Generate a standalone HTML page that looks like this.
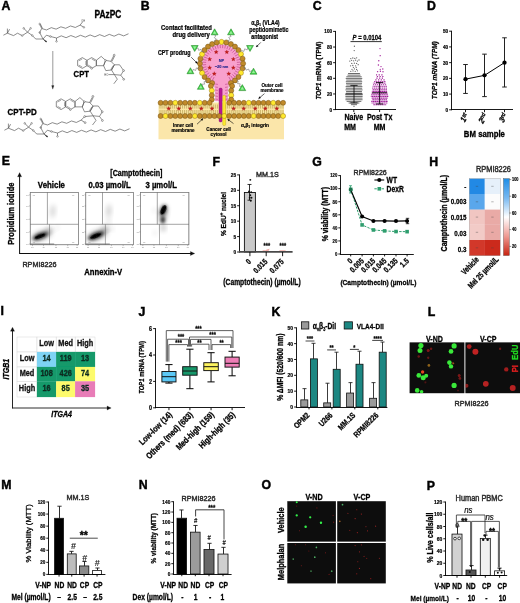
<!DOCTYPE html>
<html lang="en"><head><meta charset="utf-8"><title>Figure</title>
<style>
html,body{margin:0;padding:0;background:#fff;}
body{width:520px;height:603px;overflow:hidden;}
svg{display:block;font-family:"Liberation Sans", sans-serif;}
</style></head><body>
<svg width="520" height="603" viewBox="0 0 520 603">
<defs><filter id="soft" x="-2%" y="-2%" width="104%" height="104%"><feGaussianBlur stdDeviation="0.32"/></filter>
<filter id="b1" x="-50%" y="-50%" width="200%" height="200%"><feGaussianBlur stdDeviation="0.7"/></filter>
<filter id="b2" x="-50%" y="-50%" width="200%" height="200%"><feGaussianBlur stdDeviation="1.5"/></filter>
<filter id="b3" x="-50%" y="-50%" width="200%" height="200%"><feGaussianBlur stdDeviation="2.6"/></filter>
<filter id="b0" x="-50%" y="-50%" width="200%" height="200%"><feGaussianBlur stdDeviation="0.35"/></filter>
<linearGradient id="cbar" x1="0" y1="0" x2="0" y2="1">
<stop offset="0" stop-color="#1f8de6"/><stop offset="0.25" stop-color="#78b8f0"/><stop offset="0.5" stop-color="#ffffff"/><stop offset="0.75" stop-color="#ee9a92"/><stop offset="1" stop-color="#c8220f"/>
</linearGradient>
</defs>
<rect width="520" height="603" fill="#fff"/>
<g filter="url(#soft)">
<text transform="translate(1.40,9.80)" font-size="12.3" font-weight="bold" text-anchor="start" fill="#000" stroke="#000" stroke-width="0.44">A</text>
<text transform="translate(140.80,9.90)" font-size="12.3" font-weight="bold" text-anchor="start" fill="#000" stroke="#000" stroke-width="0.44">B</text>
<text transform="translate(94.60,18.00) scale(0.82,1)" font-size="10.2" font-weight="bold" text-anchor="start" fill="#000" stroke="#000" stroke-width="0.37">PAzPC</text>
<path d="M3.40 35.20 L7.40 33.20 L7.40 28.60" stroke="#444" stroke-width="0.62" fill="none"/>
<path d="M7.40 33.20 L9.60 29.20" stroke="#444" stroke-width="0.62" fill="none"/>
<path d="M7.40 33.20 L13.50 35.60 L17.50 33.20 L22.20 35.60 L27.60 32.20 L32.30 35.50 L35.70 39.00 L43.00 39.00 L46.40 35.20 L50.50 36.50 L56.50 38.00" stroke="#444" stroke-width="0.62" fill="none"/>
<line x1="27.60" y1="32.20" x2="23.90" y2="28.50" stroke="#444" stroke-width="0.62"/>
<line x1="27.60" y1="32.20" x2="30.40" y2="28.50" stroke="#444" stroke-width="0.62"/>
<circle cx="22.20" cy="35.60" r="0.80" fill="#fff" stroke="#444" stroke-width="0.45"/>
<circle cx="32.30" cy="35.50" r="0.80" fill="#fff" stroke="#444" stroke-width="0.45"/>
<circle cx="23.70" cy="28.30" r="0.80" fill="#fff" stroke="#444" stroke-width="0.45"/>
<circle cx="30.60" cy="28.30" r="0.80" fill="#fff" stroke="#444" stroke-width="0.45"/>
<circle cx="50.50" cy="36.50" r="0.80" fill="#fff" stroke="#444" stroke-width="0.45"/>
<circle cx="39.70" cy="32.50" r="0.80" fill="#fff" stroke="#444" stroke-width="0.45"/>
<line x1="56.50" y1="38.00" x2="56.50" y2="41.20" stroke="#444" stroke-width="0.62"/>
<circle cx="56.50" cy="41.40" r="0.80" fill="#fff" stroke="#444" stroke-width="0.45"/>
<path d="M43.00 39.00 L46.90 41.40 L46.00 42.20 Z" stroke="#111" stroke-width="0.3" fill="#111"/>
<path d="M56.50 38.00 L61.30 35.85 L66.10 37.70 L70.90 35.55 L75.70 37.40 L80.50 35.25 L85.30 37.10 L90.10 34.95 L94.90 36.80 L99.70 34.65 L104.50 36.50 L109.30 34.35 L114.10 36.20 L118.90 34.05 L123.70 35.90 L128.50 33.75" stroke="#444" stroke-width="0.62" fill="none"/>
<path d="M43.00 39.00 L39.70 32.50 L41.70 28.50" stroke="#444" stroke-width="0.62" fill="none"/>
<line x1="41.70" y1="28.50" x2="39.70" y2="24.20" stroke="#444" stroke-width="0.62"/>
<line x1="42.40" y1="28.30" x2="40.40" y2="24.00" stroke="#444" stroke-width="0.62"/>
<circle cx="39.70" cy="24.00" r="0.80" fill="#fff" stroke="#444" stroke-width="0.45"/>
<path d="M41.70 28.50 L46.50 29.98 L51.30 27.66 L56.10 29.14 L60.90 26.82 L65.70 28.30 L70.50 25.98 L75.30 27.46 L80.10 25.14" stroke="#444" stroke-width="0.62" fill="none"/>
<path d="M80.10 25.14 L82.70 21.74" stroke="#444" stroke-width="0.62" fill="none"/>
<path d="M80.10 25.14 L83.50 26.94" stroke="#444" stroke-width="0.62" fill="none"/>
<text transform="translate(81.30,21.54) scale(0.9,1)" font-size="2.8" font-weight="normal" text-anchor="start" fill="#444">OH</text>
<circle cx="83.90" cy="27.34" r="0.80" fill="#fff" stroke="#444" stroke-width="0.45"/>
<line x1="52.80" y1="51.00" x2="52.80" y2="87.00" stroke="#333" stroke-width="0.5"/>
<path d="M51.60 85.60 L52.80 89.20 L54.00 85.60 Z" stroke="#222" stroke-width="0.2" fill="#222"/>
<path d="M86.98 65.70 L82.30 68.40 L77.62 65.70 L77.62 60.30 L82.30 57.60 L86.98 60.30 Z" stroke="#444" stroke-width="0.6" fill="none"/>
<path d="M96.33 65.70 L91.65 68.40 L86.98 65.70 L86.98 60.30 L91.65 57.60 L96.33 60.30 Z" stroke="#444" stroke-width="0.6" fill="none"/>
<line x1="82.30" y1="67.10" x2="78.75" y2="65.05" stroke="#444" stroke-width="0.48"/>
<line x1="78.75" y1="60.95" x2="82.30" y2="58.90" stroke="#444" stroke-width="0.48"/>
<line x1="85.85" y1="60.95" x2="85.85" y2="65.05" stroke="#444" stroke-width="0.48"/>
<line x1="91.65" y1="58.90" x2="95.20" y2="60.95" stroke="#444" stroke-width="0.48"/>
<line x1="91.65" y1="67.10" x2="88.10" y2="65.05" stroke="#444" stroke-width="0.48"/>
<path d="M96.33 60.30 L101.20 56.40 L105.60 60.40 L103.60 65.70 L96.33 65.70 Z" stroke="#444" stroke-width="0.6" fill="none"/>
<path d="M105.60 60.40 L110.90 61.30 L114.40 64.80 L111.50 70.00 L105.80 70.60 L103.60 65.70 Z" stroke="#444" stroke-width="0.6" fill="none"/>
<line x1="113.20" y1="65.60" x2="110.70" y2="69.60" stroke="#444" stroke-width="0.48"/>
<path d="M114.40 64.80 L119.60 64.80 L123.60 70.60 L120.80 75.20 L114.40 74.60 L111.50 70.00 Z" stroke="#444" stroke-width="0.6" fill="none"/>
<line x1="110.90" y1="61.30" x2="113.60" y2="56.00" stroke="#444" stroke-width="0.6"/>
<line x1="111.80" y1="61.60" x2="114.50" y2="56.30" stroke="#444" stroke-width="0.6"/>
<circle cx="114.20" cy="55.20" r="0.90" fill="#fff" stroke="#444" stroke-width="0.5"/>
<circle cx="123.60" cy="70.60" r="0.90" fill="#fff" stroke="#444" stroke-width="0.5"/>
<line x1="120.80" y1="75.20" x2="123.30" y2="78.60" stroke="#444" stroke-width="0.6"/>
<circle cx="123.70" cy="79.30" r="0.90" fill="#fff" stroke="#444" stroke-width="0.5"/>
<circle cx="91.65" cy="68.40" r="0.85" fill="#fff" stroke="#444" stroke-width="0.45"/>
<circle cx="105.60" cy="60.40" r="0.80" fill="#fff" stroke="#444" stroke-width="0.45"/>
<path d="M114.40 74.60 L117.30 79.20 L113.80 83.80" stroke="#444" stroke-width="0.6" fill="none"/>
<line x1="114.40" y1="74.60" x2="108.60" y2="74.60" stroke="#444" stroke-width="0.6"/>
<text transform="translate(104.30,75.80) scale(0.9,1)" font-size="3.0" font-weight="normal" text-anchor="start" fill="#444">HO</text>
<text transform="translate(73.60,77.40) scale(0.82,1)" font-size="9.4" font-weight="bold" text-anchor="start" fill="#000" stroke="#000" stroke-width="0.34">CPT</text>
<text transform="translate(7.60,115.00) scale(0.82,1)" font-size="9.7" font-weight="bold" text-anchor="start" fill="#000" stroke="#000" stroke-width="0.35">CPT-PD</text>
<path d="M65.68 106.90 L61.00 109.60 L56.32 106.90 L56.32 101.50 L61.00 98.80 L65.68 101.50 Z" stroke="#444" stroke-width="0.6" fill="none"/>
<path d="M75.03 106.90 L70.35 109.60 L65.68 106.90 L65.68 101.50 L70.35 98.80 L75.03 101.50 Z" stroke="#444" stroke-width="0.6" fill="none"/>
<line x1="61.00" y1="108.30" x2="57.45" y2="106.25" stroke="#444" stroke-width="0.48"/>
<line x1="57.45" y1="102.15" x2="61.00" y2="100.10" stroke="#444" stroke-width="0.48"/>
<line x1="64.55" y1="102.15" x2="64.55" y2="106.25" stroke="#444" stroke-width="0.48"/>
<line x1="70.35" y1="100.10" x2="73.90" y2="102.15" stroke="#444" stroke-width="0.48"/>
<line x1="70.35" y1="108.30" x2="66.80" y2="106.25" stroke="#444" stroke-width="0.48"/>
<path d="M75.03 101.50 L79.90 97.60 L84.30 101.60 L82.30 106.90 L75.03 106.90 Z" stroke="#444" stroke-width="0.6" fill="none"/>
<path d="M84.30 101.60 L89.60 102.50 L93.10 106.00 L90.20 111.20 L84.50 111.80 L82.30 106.90 Z" stroke="#444" stroke-width="0.6" fill="none"/>
<line x1="91.90" y1="106.80" x2="89.40" y2="110.80" stroke="#444" stroke-width="0.48"/>
<path d="M93.10 106.00 L98.30 106.00 L102.30 111.80 L99.50 116.40 L93.10 115.80 L90.20 111.20 Z" stroke="#444" stroke-width="0.6" fill="none"/>
<line x1="89.60" y1="102.50" x2="92.30" y2="97.20" stroke="#444" stroke-width="0.6"/>
<line x1="90.50" y1="102.80" x2="93.20" y2="97.50" stroke="#444" stroke-width="0.6"/>
<circle cx="92.90" cy="96.40" r="0.90" fill="#fff" stroke="#444" stroke-width="0.5"/>
<circle cx="102.30" cy="111.80" r="0.90" fill="#fff" stroke="#444" stroke-width="0.5"/>
<line x1="99.50" y1="116.40" x2="102.00" y2="119.80" stroke="#444" stroke-width="0.6"/>
<circle cx="102.40" cy="120.50" r="0.90" fill="#fff" stroke="#444" stroke-width="0.5"/>
<circle cx="70.35" cy="109.60" r="0.85" fill="#fff" stroke="#444" stroke-width="0.45"/>
<circle cx="84.30" cy="101.60" r="0.80" fill="#fff" stroke="#444" stroke-width="0.45"/>
<path d="M93.10 115.80 L96.00 120.40 L92.50 125.00" stroke="#444" stroke-width="0.6" fill="none"/>
<path d="M4.40 130.20 L8.40 128.20 L8.40 123.60" stroke="#444" stroke-width="0.62" fill="none"/>
<path d="M8.40 128.20 L10.60 124.20" stroke="#444" stroke-width="0.62" fill="none"/>
<path d="M8.40 128.20 L14.50 130.60 L18.50 128.20 L23.20 130.60 L28.60 127.20 L33.30 130.50 L36.70 134.00 L44.00 134.00 L47.40 130.20 L51.50 131.50 L57.50 133.00" stroke="#444" stroke-width="0.62" fill="none"/>
<line x1="28.60" y1="127.20" x2="24.90" y2="123.50" stroke="#444" stroke-width="0.62"/>
<line x1="28.60" y1="127.20" x2="31.40" y2="123.50" stroke="#444" stroke-width="0.62"/>
<circle cx="23.20" cy="130.60" r="0.80" fill="#fff" stroke="#444" stroke-width="0.45"/>
<circle cx="33.30" cy="130.50" r="0.80" fill="#fff" stroke="#444" stroke-width="0.45"/>
<circle cx="24.70" cy="123.30" r="0.80" fill="#fff" stroke="#444" stroke-width="0.45"/>
<circle cx="31.60" cy="123.30" r="0.80" fill="#fff" stroke="#444" stroke-width="0.45"/>
<circle cx="51.50" cy="131.50" r="0.80" fill="#fff" stroke="#444" stroke-width="0.45"/>
<circle cx="40.70" cy="127.50" r="0.80" fill="#fff" stroke="#444" stroke-width="0.45"/>
<line x1="57.50" y1="133.00" x2="57.50" y2="136.20" stroke="#444" stroke-width="0.62"/>
<circle cx="57.50" cy="136.40" r="0.80" fill="#fff" stroke="#444" stroke-width="0.45"/>
<path d="M44.00 134.00 L47.90 136.40 L47.00 137.20 Z" stroke="#111" stroke-width="0.3" fill="#111"/>
<path d="M57.50 133.00 L62.30 130.85 L67.10 132.70 L71.90 130.55 L76.70 132.40 L81.50 130.25 L86.30 132.10 L91.10 129.95 L95.90 131.80 L100.70 129.65 L105.50 131.50 L110.30 129.35 L115.10 131.20 L119.90 129.05 L124.70 130.90 L129.50 128.75" stroke="#444" stroke-width="0.62" fill="none"/>
<path d="M44.00 134.00 L40.70 127.50 L42.70 123.50" stroke="#444" stroke-width="0.62" fill="none"/>
<line x1="42.70" y1="123.50" x2="40.70" y2="119.20" stroke="#444" stroke-width="0.62"/>
<line x1="43.40" y1="123.30" x2="41.40" y2="119.00" stroke="#444" stroke-width="0.62"/>
<circle cx="40.70" cy="119.00" r="0.80" fill="#fff" stroke="#444" stroke-width="0.45"/>
<path d="M42.70 123.50 L47.50 124.98 L52.30 122.66 L57.10 124.14 L61.90 121.82 L66.70 123.30 L71.50 120.98 L76.30 122.46 L81.10 120.14" stroke="#444" stroke-width="0.62" fill="none"/>
<path d="M81.10 120.14 L84.70 116.54 L93.10 115.80" stroke="#444" stroke-width="0.62" fill="none"/>
<line x1="81.10" y1="120.14" x2="84.70" y2="122.34" stroke="#444" stroke-width="0.62"/>
<circle cx="85.10" cy="122.64" r="0.90" fill="#fff" stroke="#444" stroke-width="0.5"/>
<circle cx="84.70" cy="116.54" r="0.90" fill="#fff" stroke="#444" stroke-width="0.5"/>
<rect x="158.50" y="116.50" width="125.50" height="22.80" fill="#fbe6aa" stroke="none" stroke-width="0.8"/>
<rect x="158.50" y="102.50" width="125.50" height="14.00" fill="#fae6a2" stroke="none" stroke-width="0.8"/>
<line x1="160.00" y1="104.50" x2="160.00" y2="108.60" stroke="#8f7420" stroke-width="0.42"/>
<line x1="160.00" y1="110.00" x2="160.00" y2="114.20" stroke="#8f7420" stroke-width="0.42"/>
<line x1="162.05" y1="104.50" x2="162.05" y2="108.60" stroke="#8f7420" stroke-width="0.42"/>
<line x1="162.05" y1="110.00" x2="162.05" y2="114.20" stroke="#8f7420" stroke-width="0.42"/>
<line x1="164.10" y1="104.50" x2="164.10" y2="108.60" stroke="#8f7420" stroke-width="0.42"/>
<line x1="164.10" y1="110.00" x2="164.10" y2="114.20" stroke="#8f7420" stroke-width="0.42"/>
<line x1="166.15" y1="104.50" x2="166.15" y2="108.60" stroke="#8f7420" stroke-width="0.42"/>
<line x1="166.15" y1="110.00" x2="166.15" y2="114.20" stroke="#8f7420" stroke-width="0.42"/>
<line x1="168.20" y1="104.50" x2="168.20" y2="108.60" stroke="#8f7420" stroke-width="0.42"/>
<line x1="168.20" y1="110.00" x2="168.20" y2="114.20" stroke="#8f7420" stroke-width="0.42"/>
<line x1="170.25" y1="104.50" x2="170.25" y2="108.60" stroke="#8f7420" stroke-width="0.42"/>
<line x1="170.25" y1="110.00" x2="170.25" y2="114.20" stroke="#8f7420" stroke-width="0.42"/>
<line x1="172.30" y1="104.50" x2="172.30" y2="108.60" stroke="#8f7420" stroke-width="0.42"/>
<line x1="172.30" y1="110.00" x2="172.30" y2="114.20" stroke="#8f7420" stroke-width="0.42"/>
<line x1="174.35" y1="104.50" x2="174.35" y2="108.60" stroke="#8f7420" stroke-width="0.42"/>
<line x1="174.35" y1="110.00" x2="174.35" y2="114.20" stroke="#8f7420" stroke-width="0.42"/>
<line x1="176.40" y1="104.50" x2="176.40" y2="108.60" stroke="#8f7420" stroke-width="0.42"/>
<line x1="176.40" y1="110.00" x2="176.40" y2="114.20" stroke="#8f7420" stroke-width="0.42"/>
<line x1="178.45" y1="104.50" x2="178.45" y2="108.60" stroke="#8f7420" stroke-width="0.42"/>
<line x1="178.45" y1="110.00" x2="178.45" y2="114.20" stroke="#8f7420" stroke-width="0.42"/>
<line x1="180.50" y1="104.50" x2="180.50" y2="108.60" stroke="#8f7420" stroke-width="0.42"/>
<line x1="180.50" y1="110.00" x2="180.50" y2="114.20" stroke="#8f7420" stroke-width="0.42"/>
<line x1="182.55" y1="104.50" x2="182.55" y2="108.60" stroke="#8f7420" stroke-width="0.42"/>
<line x1="182.55" y1="110.00" x2="182.55" y2="114.20" stroke="#8f7420" stroke-width="0.42"/>
<line x1="184.60" y1="104.50" x2="184.60" y2="108.60" stroke="#8f7420" stroke-width="0.42"/>
<line x1="184.60" y1="110.00" x2="184.60" y2="114.20" stroke="#8f7420" stroke-width="0.42"/>
<line x1="186.65" y1="104.50" x2="186.65" y2="108.60" stroke="#8f7420" stroke-width="0.42"/>
<line x1="186.65" y1="110.00" x2="186.65" y2="114.20" stroke="#8f7420" stroke-width="0.42"/>
<line x1="188.70" y1="104.50" x2="188.70" y2="108.60" stroke="#8f7420" stroke-width="0.42"/>
<line x1="188.70" y1="110.00" x2="188.70" y2="114.20" stroke="#8f7420" stroke-width="0.42"/>
<line x1="190.75" y1="104.50" x2="190.75" y2="108.60" stroke="#8f7420" stroke-width="0.42"/>
<line x1="190.75" y1="110.00" x2="190.75" y2="114.20" stroke="#8f7420" stroke-width="0.42"/>
<line x1="192.80" y1="104.50" x2="192.80" y2="108.60" stroke="#8f7420" stroke-width="0.42"/>
<line x1="192.80" y1="110.00" x2="192.80" y2="114.20" stroke="#8f7420" stroke-width="0.42"/>
<line x1="194.85" y1="104.50" x2="194.85" y2="108.60" stroke="#8f7420" stroke-width="0.42"/>
<line x1="194.85" y1="110.00" x2="194.85" y2="114.20" stroke="#8f7420" stroke-width="0.42"/>
<line x1="196.90" y1="104.50" x2="196.90" y2="108.60" stroke="#8f7420" stroke-width="0.42"/>
<line x1="196.90" y1="110.00" x2="196.90" y2="114.20" stroke="#8f7420" stroke-width="0.42"/>
<line x1="198.95" y1="104.50" x2="198.95" y2="108.60" stroke="#8f7420" stroke-width="0.42"/>
<line x1="198.95" y1="110.00" x2="198.95" y2="114.20" stroke="#8f7420" stroke-width="0.42"/>
<line x1="201.00" y1="104.50" x2="201.00" y2="108.60" stroke="#8f7420" stroke-width="0.42"/>
<line x1="201.00" y1="110.00" x2="201.00" y2="114.20" stroke="#8f7420" stroke-width="0.42"/>
<line x1="203.05" y1="104.50" x2="203.05" y2="108.60" stroke="#8f7420" stroke-width="0.42"/>
<line x1="203.05" y1="110.00" x2="203.05" y2="114.20" stroke="#8f7420" stroke-width="0.42"/>
<line x1="205.10" y1="104.50" x2="205.10" y2="108.60" stroke="#8f7420" stroke-width="0.42"/>
<line x1="205.10" y1="110.00" x2="205.10" y2="114.20" stroke="#8f7420" stroke-width="0.42"/>
<line x1="207.15" y1="104.50" x2="207.15" y2="108.60" stroke="#8f7420" stroke-width="0.42"/>
<line x1="207.15" y1="110.00" x2="207.15" y2="114.20" stroke="#8f7420" stroke-width="0.42"/>
<line x1="209.20" y1="104.50" x2="209.20" y2="108.60" stroke="#8f7420" stroke-width="0.42"/>
<line x1="209.20" y1="110.00" x2="209.20" y2="114.20" stroke="#8f7420" stroke-width="0.42"/>
<line x1="211.25" y1="104.50" x2="211.25" y2="108.60" stroke="#8f7420" stroke-width="0.42"/>
<line x1="211.25" y1="110.00" x2="211.25" y2="114.20" stroke="#8f7420" stroke-width="0.42"/>
<line x1="213.30" y1="104.50" x2="213.30" y2="108.60" stroke="#8f7420" stroke-width="0.42"/>
<line x1="213.30" y1="110.00" x2="213.30" y2="114.20" stroke="#8f7420" stroke-width="0.42"/>
<line x1="215.35" y1="104.50" x2="215.35" y2="108.60" stroke="#8f7420" stroke-width="0.42"/>
<line x1="215.35" y1="110.00" x2="215.35" y2="114.20" stroke="#8f7420" stroke-width="0.42"/>
<line x1="217.40" y1="104.50" x2="217.40" y2="108.60" stroke="#8f7420" stroke-width="0.42"/>
<line x1="217.40" y1="110.00" x2="217.40" y2="114.20" stroke="#8f7420" stroke-width="0.42"/>
<line x1="219.45" y1="104.50" x2="219.45" y2="108.60" stroke="#8f7420" stroke-width="0.42"/>
<line x1="219.45" y1="110.00" x2="219.45" y2="114.20" stroke="#8f7420" stroke-width="0.42"/>
<line x1="221.50" y1="104.50" x2="221.50" y2="108.60" stroke="#8f7420" stroke-width="0.42"/>
<line x1="221.50" y1="110.00" x2="221.50" y2="114.20" stroke="#8f7420" stroke-width="0.42"/>
<line x1="223.55" y1="104.50" x2="223.55" y2="108.60" stroke="#8f7420" stroke-width="0.42"/>
<line x1="223.55" y1="110.00" x2="223.55" y2="114.20" stroke="#8f7420" stroke-width="0.42"/>
<line x1="225.60" y1="104.50" x2="225.60" y2="108.60" stroke="#8f7420" stroke-width="0.42"/>
<line x1="225.60" y1="110.00" x2="225.60" y2="114.20" stroke="#8f7420" stroke-width="0.42"/>
<line x1="227.65" y1="104.50" x2="227.65" y2="108.60" stroke="#8f7420" stroke-width="0.42"/>
<line x1="227.65" y1="110.00" x2="227.65" y2="114.20" stroke="#8f7420" stroke-width="0.42"/>
<line x1="229.70" y1="104.50" x2="229.70" y2="108.60" stroke="#8f7420" stroke-width="0.42"/>
<line x1="229.70" y1="110.00" x2="229.70" y2="114.20" stroke="#8f7420" stroke-width="0.42"/>
<line x1="231.75" y1="104.50" x2="231.75" y2="108.60" stroke="#8f7420" stroke-width="0.42"/>
<line x1="231.75" y1="110.00" x2="231.75" y2="114.20" stroke="#8f7420" stroke-width="0.42"/>
<line x1="233.80" y1="104.50" x2="233.80" y2="108.60" stroke="#8f7420" stroke-width="0.42"/>
<line x1="233.80" y1="110.00" x2="233.80" y2="114.20" stroke="#8f7420" stroke-width="0.42"/>
<line x1="235.85" y1="104.50" x2="235.85" y2="108.60" stroke="#8f7420" stroke-width="0.42"/>
<line x1="235.85" y1="110.00" x2="235.85" y2="114.20" stroke="#8f7420" stroke-width="0.42"/>
<line x1="237.90" y1="104.50" x2="237.90" y2="108.60" stroke="#8f7420" stroke-width="0.42"/>
<line x1="237.90" y1="110.00" x2="237.90" y2="114.20" stroke="#8f7420" stroke-width="0.42"/>
<line x1="239.95" y1="104.50" x2="239.95" y2="108.60" stroke="#8f7420" stroke-width="0.42"/>
<line x1="239.95" y1="110.00" x2="239.95" y2="114.20" stroke="#8f7420" stroke-width="0.42"/>
<line x1="242.00" y1="104.50" x2="242.00" y2="108.60" stroke="#8f7420" stroke-width="0.42"/>
<line x1="242.00" y1="110.00" x2="242.00" y2="114.20" stroke="#8f7420" stroke-width="0.42"/>
<line x1="244.05" y1="104.50" x2="244.05" y2="108.60" stroke="#8f7420" stroke-width="0.42"/>
<line x1="244.05" y1="110.00" x2="244.05" y2="114.20" stroke="#8f7420" stroke-width="0.42"/>
<line x1="246.10" y1="104.50" x2="246.10" y2="108.60" stroke="#8f7420" stroke-width="0.42"/>
<line x1="246.10" y1="110.00" x2="246.10" y2="114.20" stroke="#8f7420" stroke-width="0.42"/>
<line x1="248.15" y1="104.50" x2="248.15" y2="108.60" stroke="#8f7420" stroke-width="0.42"/>
<line x1="248.15" y1="110.00" x2="248.15" y2="114.20" stroke="#8f7420" stroke-width="0.42"/>
<line x1="250.20" y1="104.50" x2="250.20" y2="108.60" stroke="#8f7420" stroke-width="0.42"/>
<line x1="250.20" y1="110.00" x2="250.20" y2="114.20" stroke="#8f7420" stroke-width="0.42"/>
<line x1="252.25" y1="104.50" x2="252.25" y2="108.60" stroke="#8f7420" stroke-width="0.42"/>
<line x1="252.25" y1="110.00" x2="252.25" y2="114.20" stroke="#8f7420" stroke-width="0.42"/>
<line x1="254.30" y1="104.50" x2="254.30" y2="108.60" stroke="#8f7420" stroke-width="0.42"/>
<line x1="254.30" y1="110.00" x2="254.30" y2="114.20" stroke="#8f7420" stroke-width="0.42"/>
<line x1="256.35" y1="104.50" x2="256.35" y2="108.60" stroke="#8f7420" stroke-width="0.42"/>
<line x1="256.35" y1="110.00" x2="256.35" y2="114.20" stroke="#8f7420" stroke-width="0.42"/>
<line x1="258.40" y1="104.50" x2="258.40" y2="108.60" stroke="#8f7420" stroke-width="0.42"/>
<line x1="258.40" y1="110.00" x2="258.40" y2="114.20" stroke="#8f7420" stroke-width="0.42"/>
<line x1="260.45" y1="104.50" x2="260.45" y2="108.60" stroke="#8f7420" stroke-width="0.42"/>
<line x1="260.45" y1="110.00" x2="260.45" y2="114.20" stroke="#8f7420" stroke-width="0.42"/>
<line x1="262.50" y1="104.50" x2="262.50" y2="108.60" stroke="#8f7420" stroke-width="0.42"/>
<line x1="262.50" y1="110.00" x2="262.50" y2="114.20" stroke="#8f7420" stroke-width="0.42"/>
<line x1="264.55" y1="104.50" x2="264.55" y2="108.60" stroke="#8f7420" stroke-width="0.42"/>
<line x1="264.55" y1="110.00" x2="264.55" y2="114.20" stroke="#8f7420" stroke-width="0.42"/>
<line x1="266.60" y1="104.50" x2="266.60" y2="108.60" stroke="#8f7420" stroke-width="0.42"/>
<line x1="266.60" y1="110.00" x2="266.60" y2="114.20" stroke="#8f7420" stroke-width="0.42"/>
<line x1="268.65" y1="104.50" x2="268.65" y2="108.60" stroke="#8f7420" stroke-width="0.42"/>
<line x1="268.65" y1="110.00" x2="268.65" y2="114.20" stroke="#8f7420" stroke-width="0.42"/>
<line x1="270.70" y1="104.50" x2="270.70" y2="108.60" stroke="#8f7420" stroke-width="0.42"/>
<line x1="270.70" y1="110.00" x2="270.70" y2="114.20" stroke="#8f7420" stroke-width="0.42"/>
<line x1="272.75" y1="104.50" x2="272.75" y2="108.60" stroke="#8f7420" stroke-width="0.42"/>
<line x1="272.75" y1="110.00" x2="272.75" y2="114.20" stroke="#8f7420" stroke-width="0.42"/>
<line x1="274.80" y1="104.50" x2="274.80" y2="108.60" stroke="#8f7420" stroke-width="0.42"/>
<line x1="274.80" y1="110.00" x2="274.80" y2="114.20" stroke="#8f7420" stroke-width="0.42"/>
<line x1="276.85" y1="104.50" x2="276.85" y2="108.60" stroke="#8f7420" stroke-width="0.42"/>
<line x1="276.85" y1="110.00" x2="276.85" y2="114.20" stroke="#8f7420" stroke-width="0.42"/>
<line x1="278.90" y1="104.50" x2="278.90" y2="108.60" stroke="#8f7420" stroke-width="0.42"/>
<line x1="278.90" y1="110.00" x2="278.90" y2="114.20" stroke="#8f7420" stroke-width="0.42"/>
<line x1="280.95" y1="104.50" x2="280.95" y2="108.60" stroke="#8f7420" stroke-width="0.42"/>
<line x1="280.95" y1="110.00" x2="280.95" y2="114.20" stroke="#8f7420" stroke-width="0.42"/>
<line x1="283.00" y1="104.50" x2="283.00" y2="108.60" stroke="#8f7420" stroke-width="0.42"/>
<line x1="283.00" y1="110.00" x2="283.00" y2="114.20" stroke="#8f7420" stroke-width="0.42"/>
<path d="M215.3 101 L215.3 92 Q215.0 84 209.5 79 A19.3 19.3 0 1 1 233.5 79 Q228.0 84 227.7 92 L227.7 101 Z" stroke="#d070a8" stroke-width="0.3" fill="#f8a0cd"/>
<line x1="240.65" y1="64.84" x2="236.86" y2="64.57" stroke="#a0186a" stroke-width="0.45"/>
<line x1="240.27" y1="67.55" x2="236.55" y2="66.75" stroke="#a0186a" stroke-width="0.45"/>
<line x1="239.50" y1="70.18" x2="235.94" y2="68.86" stroke="#a0186a" stroke-width="0.45"/>
<line x1="238.37" y1="72.67" x2="235.03" y2="70.86" stroke="#a0186a" stroke-width="0.45"/>
<line x1="236.89" y1="74.98" x2="233.84" y2="72.71" stroke="#a0186a" stroke-width="0.45"/>
<line x1="235.10" y1="77.05" x2="232.41" y2="74.37" stroke="#a0186a" stroke-width="0.45"/>
<line x1="233.03" y1="78.85" x2="230.75" y2="75.81" stroke="#a0186a" stroke-width="0.45"/>
<line x1="230.73" y1="80.34" x2="228.90" y2="77.00" stroke="#a0186a" stroke-width="0.45"/>
<line x1="212.33" y1="80.37" x2="214.14" y2="77.03" stroke="#a0186a" stroke-width="0.45"/>
<line x1="210.02" y1="78.89" x2="212.29" y2="75.84" stroke="#a0186a" stroke-width="0.45"/>
<line x1="207.95" y1="77.10" x2="210.63" y2="74.41" stroke="#a0186a" stroke-width="0.45"/>
<line x1="206.15" y1="75.03" x2="209.19" y2="72.75" stroke="#a0186a" stroke-width="0.45"/>
<line x1="204.66" y1="72.73" x2="208.00" y2="70.90" stroke="#a0186a" stroke-width="0.45"/>
<line x1="203.52" y1="70.24" x2="207.08" y2="68.90" stroke="#a0186a" stroke-width="0.45"/>
<line x1="202.75" y1="67.61" x2="206.46" y2="66.80" stroke="#a0186a" stroke-width="0.45"/>
<line x1="202.35" y1="64.90" x2="206.14" y2="64.62" stroke="#a0186a" stroke-width="0.45"/>
<line x1="202.35" y1="62.16" x2="206.14" y2="62.43" stroke="#a0186a" stroke-width="0.45"/>
<line x1="202.73" y1="59.45" x2="206.45" y2="60.25" stroke="#a0186a" stroke-width="0.45"/>
<line x1="203.50" y1="56.82" x2="207.06" y2="58.14" stroke="#a0186a" stroke-width="0.45"/>
<line x1="204.63" y1="54.33" x2="207.97" y2="56.14" stroke="#a0186a" stroke-width="0.45"/>
<line x1="206.11" y1="52.02" x2="209.16" y2="54.29" stroke="#a0186a" stroke-width="0.45"/>
<line x1="207.90" y1="49.95" x2="210.59" y2="52.63" stroke="#a0186a" stroke-width="0.45"/>
<line x1="209.97" y1="48.15" x2="212.25" y2="51.19" stroke="#a0186a" stroke-width="0.45"/>
<line x1="212.27" y1="46.66" x2="214.10" y2="50.00" stroke="#a0186a" stroke-width="0.45"/>
<line x1="214.76" y1="45.52" x2="216.10" y2="49.08" stroke="#a0186a" stroke-width="0.45"/>
<line x1="217.39" y1="44.75" x2="218.20" y2="48.46" stroke="#a0186a" stroke-width="0.45"/>
<line x1="220.10" y1="44.35" x2="220.38" y2="48.14" stroke="#a0186a" stroke-width="0.45"/>
<line x1="222.84" y1="44.35" x2="222.57" y2="48.14" stroke="#a0186a" stroke-width="0.45"/>
<line x1="225.55" y1="44.73" x2="224.75" y2="48.45" stroke="#a0186a" stroke-width="0.45"/>
<line x1="228.18" y1="45.50" x2="226.86" y2="49.06" stroke="#a0186a" stroke-width="0.45"/>
<line x1="230.67" y1="46.63" x2="228.86" y2="49.97" stroke="#a0186a" stroke-width="0.45"/>
<line x1="232.98" y1="48.11" x2="230.71" y2="51.16" stroke="#a0186a" stroke-width="0.45"/>
<line x1="235.05" y1="49.90" x2="232.37" y2="52.59" stroke="#a0186a" stroke-width="0.45"/>
<line x1="236.85" y1="51.97" x2="233.81" y2="54.25" stroke="#a0186a" stroke-width="0.45"/>
<line x1="238.34" y1="54.27" x2="235.00" y2="56.10" stroke="#a0186a" stroke-width="0.45"/>
<line x1="239.48" y1="56.76" x2="235.92" y2="58.10" stroke="#a0186a" stroke-width="0.45"/>
<line x1="240.25" y1="59.39" x2="236.54" y2="60.20" stroke="#a0186a" stroke-width="0.45"/>
<line x1="240.65" y1="62.10" x2="236.86" y2="62.38" stroke="#a0186a" stroke-width="0.45"/>
<line x1="215.30" y1="84.00" x2="217.90" y2="84.40" stroke="#a0186a" stroke-width="0.45"/>
<line x1="227.70" y1="84.00" x2="225.10" y2="84.40" stroke="#a0186a" stroke-width="0.45"/>
<line x1="215.30" y1="87.00" x2="217.90" y2="87.40" stroke="#a0186a" stroke-width="0.45"/>
<line x1="227.70" y1="87.00" x2="225.10" y2="87.40" stroke="#a0186a" stroke-width="0.45"/>
<line x1="215.30" y1="90.00" x2="217.90" y2="90.40" stroke="#a0186a" stroke-width="0.45"/>
<line x1="227.70" y1="90.00" x2="225.10" y2="90.40" stroke="#a0186a" stroke-width="0.45"/>
<line x1="215.30" y1="93.00" x2="217.90" y2="93.40" stroke="#a0186a" stroke-width="0.45"/>
<line x1="227.70" y1="93.00" x2="225.10" y2="93.40" stroke="#a0186a" stroke-width="0.45"/>
<line x1="215.30" y1="96.00" x2="217.90" y2="96.40" stroke="#a0186a" stroke-width="0.45"/>
<line x1="227.70" y1="96.00" x2="225.10" y2="96.40" stroke="#a0186a" stroke-width="0.45"/>
<line x1="215.30" y1="99.00" x2="217.90" y2="99.40" stroke="#a0186a" stroke-width="0.45"/>
<line x1="227.70" y1="99.00" x2="225.10" y2="99.40" stroke="#a0186a" stroke-width="0.45"/>
<rect x="219.00" y="88.00" width="3.20" height="34.00" fill="#b81892" stroke="#70085a" stroke-width="0.3" rx="1.3"/>
<rect x="222.70" y="95.20" width="3.00" height="30.40" fill="#ffe92e" stroke="#9a8a10" stroke-width="0.3" rx="1.3"/>
<circle cx="221.50" cy="41.90" r="2.55" fill="#ffe92e" stroke="#8a6a10" stroke-width="0.45"/>
<circle cx="226.31" cy="42.44" r="2.55" fill="#c08a2a" stroke="#6b4a10" stroke-width="0.45"/>
<circle cx="230.87" cy="44.04" r="2.55" fill="#c08a2a" stroke="#6b4a10" stroke-width="0.45"/>
<circle cx="234.97" cy="46.61" r="2.55" fill="#c08a2a" stroke="#6b4a10" stroke-width="0.45"/>
<circle cx="238.39" cy="50.03" r="2.55" fill="#c08a2a" stroke="#6b4a10" stroke-width="0.45"/>
<circle cx="240.96" cy="54.13" r="2.55" fill="#ffe92e" stroke="#8a6a10" stroke-width="0.45"/>
<circle cx="242.56" cy="58.69" r="2.55" fill="#c08a2a" stroke="#6b4a10" stroke-width="0.45"/>
<circle cx="243.10" cy="63.50" r="2.55" fill="#c08a2a" stroke="#6b4a10" stroke-width="0.45"/>
<circle cx="242.56" cy="68.31" r="2.55" fill="#c08a2a" stroke="#6b4a10" stroke-width="0.45"/>
<circle cx="240.96" cy="72.87" r="2.55" fill="#ffe92e" stroke="#8a6a10" stroke-width="0.45"/>
<circle cx="238.39" cy="76.97" r="2.55" fill="#c08a2a" stroke="#6b4a10" stroke-width="0.45"/>
<circle cx="234.97" cy="80.39" r="2.55" fill="#c08a2a" stroke="#6b4a10" stroke-width="0.45"/>
<circle cx="230.87" cy="82.96" r="2.55" fill="#c08a2a" stroke="#6b4a10" stroke-width="0.45"/>
<circle cx="212.13" cy="82.96" r="2.55" fill="#c08a2a" stroke="#6b4a10" stroke-width="0.45"/>
<circle cx="208.03" cy="80.39" r="2.55" fill="#c08a2a" stroke="#6b4a10" stroke-width="0.45"/>
<circle cx="204.61" cy="76.97" r="2.55" fill="#c08a2a" stroke="#6b4a10" stroke-width="0.45"/>
<circle cx="202.04" cy="72.87" r="2.55" fill="#ffe92e" stroke="#8a6a10" stroke-width="0.45"/>
<circle cx="200.44" cy="68.31" r="2.55" fill="#c08a2a" stroke="#6b4a10" stroke-width="0.45"/>
<circle cx="199.90" cy="63.50" r="2.55" fill="#c08a2a" stroke="#6b4a10" stroke-width="0.45"/>
<circle cx="200.44" cy="58.69" r="2.55" fill="#c08a2a" stroke="#6b4a10" stroke-width="0.45"/>
<circle cx="202.04" cy="54.13" r="2.55" fill="#ffe92e" stroke="#8a6a10" stroke-width="0.45"/>
<circle cx="204.61" cy="50.03" r="2.55" fill="#c08a2a" stroke="#6b4a10" stroke-width="0.45"/>
<circle cx="208.03" cy="46.61" r="2.55" fill="#c08a2a" stroke="#6b4a10" stroke-width="0.45"/>
<circle cx="212.13" cy="44.04" r="2.55" fill="#c08a2a" stroke="#6b4a10" stroke-width="0.45"/>
<circle cx="216.69" cy="42.44" r="2.55" fill="#c08a2a" stroke="#6b4a10" stroke-width="0.45"/>
<circle cx="210.90" cy="86.00" r="2.55" fill="#c08a2a" stroke="#6b4a10" stroke-width="0.45"/>
<circle cx="232.10" cy="86.00" r="2.55" fill="#c08a2a" stroke="#6b4a10" stroke-width="0.45"/>
<circle cx="211.80" cy="90.60" r="2.55" fill="#ffe92e" stroke="#8a6a10" stroke-width="0.45"/>
<circle cx="231.20" cy="90.60" r="2.55" fill="#c08a2a" stroke="#6b4a10" stroke-width="0.45"/>
<circle cx="211.80" cy="95.20" r="2.55" fill="#c08a2a" stroke="#6b4a10" stroke-width="0.45"/>
<circle cx="231.20" cy="95.20" r="2.55" fill="#ffe92e" stroke="#8a6a10" stroke-width="0.45"/>
<circle cx="211.80" cy="99.60" r="2.55" fill="#c08a2a" stroke="#6b4a10" stroke-width="0.45"/>
<circle cx="231.20" cy="99.60" r="2.55" fill="#c08a2a" stroke="#6b4a10" stroke-width="0.45"/>
<circle cx="160.60" cy="102.80" r="2.50" fill="#c08a2a" stroke="#6b4a10" stroke-width="0.45"/>
<circle cx="160.60" cy="116.00" r="2.50" fill="#c08a2a" stroke="#6b4a10" stroke-width="0.45"/>
<circle cx="165.50" cy="102.80" r="2.50" fill="#c08a2a" stroke="#6b4a10" stroke-width="0.45"/>
<circle cx="165.50" cy="116.00" r="2.50" fill="#ffe92e" stroke="#8a6a10" stroke-width="0.45"/>
<circle cx="170.40" cy="102.80" r="2.50" fill="#c08a2a" stroke="#6b4a10" stroke-width="0.45"/>
<circle cx="170.40" cy="116.00" r="2.50" fill="#c08a2a" stroke="#6b4a10" stroke-width="0.45"/>
<circle cx="175.30" cy="102.80" r="2.50" fill="#ffe92e" stroke="#8a6a10" stroke-width="0.45"/>
<circle cx="175.30" cy="116.00" r="2.50" fill="#c08a2a" stroke="#6b4a10" stroke-width="0.45"/>
<circle cx="180.20" cy="102.80" r="2.50" fill="#c08a2a" stroke="#6b4a10" stroke-width="0.45"/>
<circle cx="180.20" cy="116.00" r="2.50" fill="#c08a2a" stroke="#6b4a10" stroke-width="0.45"/>
<circle cx="185.10" cy="102.80" r="2.50" fill="#c08a2a" stroke="#6b4a10" stroke-width="0.45"/>
<circle cx="185.10" cy="116.00" r="2.50" fill="#c08a2a" stroke="#6b4a10" stroke-width="0.45"/>
<circle cx="190.00" cy="102.80" r="2.50" fill="#c08a2a" stroke="#6b4a10" stroke-width="0.45"/>
<circle cx="190.00" cy="116.00" r="2.50" fill="#c08a2a" stroke="#6b4a10" stroke-width="0.45"/>
<circle cx="194.90" cy="102.80" r="2.50" fill="#c08a2a" stroke="#6b4a10" stroke-width="0.45"/>
<circle cx="194.90" cy="116.00" r="2.50" fill="#ffe92e" stroke="#8a6a10" stroke-width="0.45"/>
<circle cx="199.80" cy="102.80" r="2.50" fill="#ffe92e" stroke="#8a6a10" stroke-width="0.45"/>
<circle cx="199.80" cy="116.00" r="2.50" fill="#c08a2a" stroke="#6b4a10" stroke-width="0.45"/>
<circle cx="204.70" cy="102.80" r="2.50" fill="#c08a2a" stroke="#6b4a10" stroke-width="0.45"/>
<circle cx="204.70" cy="116.00" r="2.50" fill="#c08a2a" stroke="#6b4a10" stroke-width="0.45"/>
<circle cx="209.60" cy="102.80" r="2.50" fill="#c08a2a" stroke="#6b4a10" stroke-width="0.45"/>
<circle cx="209.60" cy="116.00" r="2.50" fill="#c08a2a" stroke="#6b4a10" stroke-width="0.45"/>
<circle cx="214.50" cy="116.00" r="2.50" fill="#c08a2a" stroke="#6b4a10" stroke-width="0.45"/>
<circle cx="219.40" cy="116.00" r="2.50" fill="#c08a2a" stroke="#6b4a10" stroke-width="0.45"/>
<circle cx="224.30" cy="116.00" r="2.50" fill="#ffe92e" stroke="#8a6a10" stroke-width="0.45"/>
<circle cx="229.20" cy="102.80" r="2.50" fill="#c08a2a" stroke="#6b4a10" stroke-width="0.45"/>
<circle cx="229.20" cy="116.00" r="2.50" fill="#c08a2a" stroke="#6b4a10" stroke-width="0.45"/>
<circle cx="234.10" cy="102.80" r="2.50" fill="#c08a2a" stroke="#6b4a10" stroke-width="0.45"/>
<circle cx="234.10" cy="116.00" r="2.50" fill="#c08a2a" stroke="#6b4a10" stroke-width="0.45"/>
<circle cx="239.00" cy="102.80" r="2.50" fill="#c08a2a" stroke="#6b4a10" stroke-width="0.45"/>
<circle cx="239.00" cy="116.00" r="2.50" fill="#c08a2a" stroke="#6b4a10" stroke-width="0.45"/>
<circle cx="243.90" cy="102.80" r="2.50" fill="#c08a2a" stroke="#6b4a10" stroke-width="0.45"/>
<circle cx="243.90" cy="116.00" r="2.50" fill="#c08a2a" stroke="#6b4a10" stroke-width="0.45"/>
<circle cx="248.80" cy="102.80" r="2.50" fill="#ffe92e" stroke="#8a6a10" stroke-width="0.45"/>
<circle cx="248.80" cy="116.00" r="2.50" fill="#c08a2a" stroke="#6b4a10" stroke-width="0.45"/>
<circle cx="253.70" cy="102.80" r="2.50" fill="#c08a2a" stroke="#6b4a10" stroke-width="0.45"/>
<circle cx="253.70" cy="116.00" r="2.50" fill="#ffe92e" stroke="#8a6a10" stroke-width="0.45"/>
<circle cx="258.60" cy="102.80" r="2.50" fill="#c08a2a" stroke="#6b4a10" stroke-width="0.45"/>
<circle cx="258.60" cy="116.00" r="2.50" fill="#c08a2a" stroke="#6b4a10" stroke-width="0.45"/>
<circle cx="263.50" cy="102.80" r="2.50" fill="#c08a2a" stroke="#6b4a10" stroke-width="0.45"/>
<circle cx="263.50" cy="116.00" r="2.50" fill="#c08a2a" stroke="#6b4a10" stroke-width="0.45"/>
<circle cx="268.40" cy="102.80" r="2.50" fill="#c08a2a" stroke="#6b4a10" stroke-width="0.45"/>
<circle cx="268.40" cy="116.00" r="2.50" fill="#c08a2a" stroke="#6b4a10" stroke-width="0.45"/>
<circle cx="273.30" cy="102.80" r="2.50" fill="#ffe92e" stroke="#8a6a10" stroke-width="0.45"/>
<circle cx="273.30" cy="116.00" r="2.50" fill="#c08a2a" stroke="#6b4a10" stroke-width="0.45"/>
<circle cx="278.20" cy="102.80" r="2.50" fill="#c08a2a" stroke="#6b4a10" stroke-width="0.45"/>
<circle cx="278.20" cy="116.00" r="2.50" fill="#c08a2a" stroke="#6b4a10" stroke-width="0.45"/>
<circle cx="283.10" cy="102.80" r="2.50" fill="#c08a2a" stroke="#6b4a10" stroke-width="0.45"/>
<circle cx="283.10" cy="116.00" r="2.50" fill="#ffe92e" stroke="#8a6a10" stroke-width="0.45"/>
<path d="M168.70 106.40 L169.28 107.80 L170.79 107.92 L169.64 108.91 L169.99 110.38 L168.70 109.59 L167.41 110.38 L167.76 108.91 L166.61 107.92 L168.12 107.80 Z" stroke="#a01010" stroke-width="0.2" fill="#c01c1c"/>
<path d="M178.80 106.40 L179.38 107.80 L180.89 107.92 L179.74 108.91 L180.09 110.38 L178.80 109.59 L177.51 110.38 L177.86 108.91 L176.71 107.92 L178.22 107.80 Z" stroke="#a01010" stroke-width="0.2" fill="#c01c1c"/>
<path d="M190.30 106.40 L190.88 107.80 L192.39 107.92 L191.24 108.91 L191.59 110.38 L190.30 109.59 L189.01 110.38 L189.36 108.91 L188.21 107.92 L189.72 107.80 Z" stroke="#a01010" stroke-width="0.2" fill="#c01c1c"/>
<path d="M201.30 106.40 L201.88 107.80 L203.39 107.92 L202.24 108.91 L202.59 110.38 L201.30 109.59 L200.01 110.38 L200.36 108.91 L199.21 107.92 L200.72 107.80 Z" stroke="#a01010" stroke-width="0.2" fill="#c01c1c"/>
<path d="M212.00 106.40 L212.58 107.80 L214.09 107.92 L212.94 108.91 L213.29 110.38 L212.00 109.59 L210.71 110.38 L211.06 108.91 L209.91 107.92 L211.42 107.80 Z" stroke="#a01010" stroke-width="0.2" fill="#c01c1c"/>
<path d="M233.60 106.40 L234.18 107.80 L235.69 107.92 L234.54 108.91 L234.89 110.38 L233.60 109.59 L232.31 110.38 L232.66 108.91 L231.51 107.92 L233.02 107.80 Z" stroke="#a01010" stroke-width="0.2" fill="#c01c1c"/>
<path d="M243.70 106.40 L244.28 107.80 L245.79 107.92 L244.64 108.91 L244.99 110.38 L243.70 109.59 L242.41 110.38 L242.76 108.91 L241.61 107.92 L243.12 107.80 Z" stroke="#a01010" stroke-width="0.2" fill="#c01c1c"/>
<path d="M255.20 106.40 L255.78 107.80 L257.29 107.92 L256.14 108.91 L256.49 110.38 L255.20 109.59 L253.91 110.38 L254.26 108.91 L253.11 107.92 L254.62 107.80 Z" stroke="#a01010" stroke-width="0.2" fill="#c01c1c"/>
<path d="M265.30 106.40 L265.88 107.80 L267.39 107.92 L266.24 108.91 L266.59 110.38 L265.30 109.59 L264.01 110.38 L264.36 108.91 L263.21 107.92 L264.72 107.80 Z" stroke="#a01010" stroke-width="0.2" fill="#c01c1c"/>
<path d="M276.80 106.40 L277.38 107.80 L278.89 107.92 L277.74 108.91 L278.09 110.38 L276.80 109.59 L275.51 110.38 L275.86 108.91 L274.71 107.92 L276.22 107.80 Z" stroke="#a01010" stroke-width="0.2" fill="#c01c1c"/>
<path d="M216.18 49.88 L216.76 51.28 L218.27 51.40 L217.12 52.39 L217.47 53.86 L216.18 53.07 L214.88 53.86 L215.23 52.39 L214.08 51.40 L215.59 51.28 Z" stroke="#a01010" stroke-width="0.2" fill="#c01c1c"/>
<path d="M226.82 49.88 L227.41 51.28 L228.92 51.40 L227.77 52.39 L228.12 53.86 L226.82 53.07 L225.53 53.86 L225.88 52.39 L224.73 51.40 L226.24 51.28 Z" stroke="#a01010" stroke-width="0.2" fill="#c01c1c"/>
<path d="M233.34 56.99 L233.92 58.39 L235.43 58.51 L234.28 59.50 L234.63 60.97 L233.34 60.18 L232.05 60.97 L232.40 59.50 L231.25 58.51 L232.76 58.39 Z" stroke="#a01010" stroke-width="0.2" fill="#c01c1c"/>
<path d="M233.34 65.61 L233.92 67.01 L235.43 67.13 L234.28 68.12 L234.63 69.59 L233.34 68.80 L232.05 69.59 L232.40 68.12 L231.25 67.13 L232.76 67.01 Z" stroke="#a01010" stroke-width="0.2" fill="#c01c1c"/>
<path d="M228.73 71.62 L229.31 73.02 L230.82 73.14 L229.67 74.13 L230.02 75.60 L228.73 74.81 L227.43 75.60 L227.79 74.13 L226.63 73.14 L228.15 73.02 Z" stroke="#a01010" stroke-width="0.2" fill="#c01c1c"/>
<path d="M214.27 71.62 L214.85 73.02 L216.37 73.14 L215.21 74.13 L215.57 75.60 L214.27 74.81 L212.98 75.60 L213.33 74.13 L212.18 73.14 L213.69 73.02 Z" stroke="#a01010" stroke-width="0.2" fill="#c01c1c"/>
<path d="M209.66 65.61 L210.24 67.01 L211.75 67.13 L210.60 68.12 L210.95 69.59 L209.66 68.80 L208.37 69.59 L208.72 68.12 L207.57 67.13 L209.08 67.01 Z" stroke="#a01010" stroke-width="0.2" fill="#c01c1c"/>
<path d="M209.66 56.99 L210.24 58.39 L211.75 58.51 L210.60 59.50 L210.95 60.97 L209.66 60.18 L208.37 60.97 L208.72 59.50 L207.57 58.51 L209.08 58.39 Z" stroke="#a01010" stroke-width="0.2" fill="#c01c1c"/>
<text transform="translate(221.50,62.40) scale(0.9,1)" font-size="4.4" font-weight="bold" text-anchor="middle" fill="#2a2a90" stroke="#2a2a90" stroke-width="0.16">NP</text>
<text transform="translate(221.50,67.80) scale(0.9,1)" font-size="4.4" font-weight="bold" text-anchor="middle" fill="#2a2a90" stroke="#2a2a90" stroke-width="0.16">~20 nm</text>
<path d="M214.60 32.80 L213.81 34.49 L215.99 35.81 L214.21 37.63 L216.39 38.94 L214.61 40.76 L215.80 42.20" stroke="#777" stroke-width="0.6" fill="none"/>
<path d="M214.60 28.80 L218.06 34.80 L211.14 34.80 Z" stroke="#1b7a1b" stroke-width="0.5" fill="#3fd24a"/>
<path d="M214.60 31.00 L216.16 33.70 L213.04 33.70 Z" stroke="#9df09d" stroke-width="0.2" fill="#9df09d"/>
<path d="M231.00 32.80 L229.60 34.18 L231.10 36.32 L228.73 37.44 L230.23 39.59 L227.87 40.71 L228.40 42.60" stroke="#777" stroke-width="0.6" fill="none"/>
<path d="M231.00 28.80 L234.46 34.80 L227.54 34.80 Z" stroke="#1b7a1b" stroke-width="0.5" fill="#3fd24a"/>
<path d="M231.00 31.00 L232.56 33.70 L229.44 33.70 Z" stroke="#9df09d" stroke-width="0.2" fill="#9df09d"/>
<path d="M194.70 47.50 L195.75 49.08 L198.05 47.92 L198.69 50.41 L200.98 49.26 L201.62 51.74 L203.50 51.50" stroke="#777" stroke-width="0.6" fill="none"/>
<path d="M194.70 51.50 L191.24 45.50 L198.16 45.50 Z" stroke="#1b7a1b" stroke-width="0.5" fill="#3fd24a"/>
<path d="M194.70 49.30 L193.14 46.60 L196.26 46.60 Z" stroke="#9df09d" stroke-width="0.2" fill="#9df09d"/>
<path d="M250.00 47.50 L247.95 47.34 L247.15 49.91 L244.68 48.84 L243.88 51.41 L241.42 50.34 L240.20 52.00" stroke="#777" stroke-width="0.6" fill="none"/>
<path d="M250.00 51.50 L246.54 45.50 L253.46 45.50 Z" stroke="#1b7a1b" stroke-width="0.5" fill="#3fd24a"/>
<path d="M250.00 49.30 L248.44 46.60 L251.56 46.60 Z" stroke="#9df09d" stroke-width="0.2" fill="#9df09d"/>
<path d="M190.40 71.70 L192.41 71.90 L193.19 69.35 L195.61 70.46 L196.39 67.92 L198.81 69.03 L200.00 67.40" stroke="#777" stroke-width="0.6" fill="none"/>
<path d="M190.40 67.70 L193.86 73.70 L186.94 73.70 Z" stroke="#1b7a1b" stroke-width="0.5" fill="#3fd24a"/>
<path d="M190.40 69.90 L191.96 72.60 L188.84 72.60 Z" stroke="#9df09d" stroke-width="0.2" fill="#9df09d"/>
<path d="M253.50 72.20 L252.14 70.54 L249.61 71.66 L248.64 69.08 L246.11 70.19 L245.14 67.61 L243.00 67.80" stroke="#777" stroke-width="0.6" fill="none"/>
<path d="M253.50 68.20 L256.96 74.20 L250.04 74.20 Z" stroke="#1b7a1b" stroke-width="0.5" fill="#3fd24a"/>
<path d="M253.50 70.40 L255.06 73.10 L251.94 73.10 Z" stroke="#9df09d" stroke-width="0.2" fill="#9df09d"/>
<path d="M200.80 87.30 L202.58 86.67 L202.02 84.18 L204.58 84.17 L204.02 81.68 L206.58 81.67 L206.80 79.80" stroke="#777" stroke-width="0.6" fill="none"/>
<path d="M200.80 83.30 L204.26 89.30 L197.34 89.30 Z" stroke="#1b7a1b" stroke-width="0.5" fill="#3fd24a"/>
<path d="M200.80 85.50 L202.36 88.20 L199.24 88.20 Z" stroke="#9df09d" stroke-width="0.2" fill="#9df09d"/>
<path d="M242.30 88.60 L242.13 86.63 L239.52 86.37 L240.17 83.83 L237.55 83.57 L238.20 81.03 L236.40 80.20" stroke="#777" stroke-width="0.6" fill="none"/>
<path d="M242.30 84.60 L245.76 90.60 L238.84 90.60 Z" stroke="#1b7a1b" stroke-width="0.5" fill="#3fd24a"/>
<path d="M242.30 86.80 L243.86 89.50 L240.74 89.50 Z" stroke="#9df09d" stroke-width="0.2" fill="#9df09d"/>
<text transform="translate(186.40,30.20) scale(0.9,1)" font-size="6.5" font-weight="bold" text-anchor="middle" fill="#000" stroke="#000" stroke-width="0.23">Contact facilitated</text>
<text transform="translate(191.20,37.00) scale(0.92,1)" font-size="6.5" font-weight="bold" text-anchor="middle" fill="#000" stroke="#000" stroke-width="0.23">drug delivery</text>
<text transform="translate(174.20,54.60) scale(0.82,1)" font-size="6.5" font-weight="bold" text-anchor="middle" fill="#000" stroke="#000" stroke-width="0.23">CPT prodrug</text>
<line x1="191.20" y1="57.20" x2="197.40" y2="63.40" stroke="#000" stroke-width="0.6"/>
<path d="M197.40 63.40 L195.32 62.68 L196.68 61.32 Z" stroke="#000" stroke-width="0.2" fill="#000"/>
<text transform="translate(251.20,25.00) scale(0.82,1)" font-size="6.5" font-weight="bold" text-anchor="start" fill="#000" stroke="#000" stroke-width="0.23">α<tspan font-size="3.6" dy="1.2">v</tspan><tspan dy="-1.2">β</tspan><tspan font-size="3.6" dy="1.2">1</tspan><tspan dy="-1.2"> (VLA4)</tspan></text>
<text transform="translate(249.20,32.40) scale(0.82,1)" font-size="6.5" font-weight="bold" text-anchor="start" fill="#000" stroke="#000" stroke-width="0.23">peptidomimetic</text>
<text transform="translate(251.20,39.40) scale(0.82,1)" font-size="6.5" font-weight="bold" text-anchor="start" fill="#000" stroke="#000" stroke-width="0.23">antagonist</text>
<line x1="260.80" y1="42.40" x2="256.20" y2="47.00" stroke="#000" stroke-width="0.6"/>
<path d="M256.20 47.00 L256.92 44.92 L258.28 46.28 Z" stroke="#000" stroke-width="0.2" fill="#000"/>
<text transform="translate(272.00,87.20) scale(0.82,1)" font-size="5.6" font-weight="bold" text-anchor="middle" fill="#000" stroke="#000" stroke-width="0.20">Outer cell</text>
<text transform="translate(272.00,92.20) scale(0.82,1)" font-size="5.6" font-weight="bold" text-anchor="middle" fill="#000" stroke="#000" stroke-width="0.20">membrane</text>
<line x1="264.50" y1="93.60" x2="258.60" y2="98.60" stroke="#000" stroke-width="0.6"/>
<path d="M258.60 98.60 L259.49 96.59 L260.73 98.05 Z" stroke="#000" stroke-width="0.2" fill="#000"/>
<text transform="translate(183.00,127.40) scale(0.82,1)" font-size="5.6" font-weight="bold" text-anchor="middle" fill="#000" stroke="#000" stroke-width="0.20">Inner cell</text>
<text transform="translate(183.00,132.40) scale(0.82,1)" font-size="5.6" font-weight="bold" text-anchor="middle" fill="#000" stroke="#000" stroke-width="0.20">membrane</text>
<line x1="197.00" y1="124.20" x2="203.00" y2="118.60" stroke="#000" stroke-width="0.6"/>
<path d="M203.00 118.60 L202.20 120.65 L200.90 119.25 Z" stroke="#000" stroke-width="0.2" fill="#000"/>
<text transform="translate(218.60,131.20) scale(0.82,1)" font-size="5.6" font-weight="bold" text-anchor="middle" fill="#000" stroke="#000" stroke-width="0.20">Cancer cell</text>
<text transform="translate(218.60,136.20) scale(0.82,1)" font-size="5.6" font-weight="bold" text-anchor="middle" fill="#000" stroke="#000" stroke-width="0.20">cytosol</text>
<text transform="translate(241.00,127.00) scale(0.82,1)" font-size="5.9" font-weight="bold" text-anchor="start" fill="#000" stroke="#000" stroke-width="0.21">α<tspan font-size="3.4" dy="1.1">v</tspan><tspan dy="-1.1">β</tspan><tspan font-size="3.4" dy="1.1">1</tspan><tspan dy="-1.1"> integrin</tspan></text>
<line x1="233.50" y1="123.60" x2="227.60" y2="119.20" stroke="#000" stroke-width="0.6"/>
<path d="M227.60 119.20 L229.76 119.62 L228.62 121.15 Z" stroke="#000" stroke-width="0.2" fill="#000"/>
<text transform="translate(312.80,9.90)" font-size="12.3" font-weight="bold" text-anchor="start" fill="#000" stroke="#000" stroke-width="0.44">C</text>
<text transform="translate(427.00,10.00)" font-size="12.3" font-weight="bold" text-anchor="start" fill="#000" stroke="#000" stroke-width="0.44">D</text>
<line x1="353.34" y1="106.30" x2="354.66" y2="106.30" stroke="#646464" stroke-width="0.95"/>
<line x1="350.94" y1="104.66" x2="357.06" y2="104.66" stroke="#646464" stroke-width="0.95"/>
<line x1="348.62" y1="103.02" x2="359.38" y2="103.02" stroke="#646464" stroke-width="0.95"/>
<line x1="346.66" y1="101.38" x2="361.34" y2="101.38" stroke="#646464" stroke-width="0.95"/>
<line x1="345.43" y1="99.74" x2="362.57" y2="99.74" stroke="#646464" stroke-width="0.95"/>
<line x1="345.52" y1="98.10" x2="362.48" y2="98.10" stroke="#646464" stroke-width="0.95"/>
<line x1="345.40" y1="96.46" x2="362.60" y2="96.46" stroke="#646464" stroke-width="0.95"/>
<line x1="345.34" y1="94.82" x2="362.66" y2="94.82" stroke="#646464" stroke-width="0.95"/>
<line x1="345.97" y1="93.18" x2="362.03" y2="93.18" stroke="#646464" stroke-width="0.95"/>
<line x1="346.07" y1="91.54" x2="361.93" y2="91.54" stroke="#646464" stroke-width="0.95"/>
<line x1="345.45" y1="89.90" x2="362.55" y2="89.90" stroke="#646464" stroke-width="0.95"/>
<line x1="345.84" y1="88.26" x2="362.16" y2="88.26" stroke="#646464" stroke-width="0.95"/>
<line x1="345.62" y1="86.62" x2="362.38" y2="86.62" stroke="#646464" stroke-width="0.95"/>
<line x1="346.29" y1="84.98" x2="361.71" y2="84.98" stroke="#646464" stroke-width="0.95"/>
<line x1="345.98" y1="83.34" x2="362.02" y2="83.34" stroke="#646464" stroke-width="0.95"/>
<line x1="345.81" y1="81.70" x2="362.19" y2="81.70" stroke="#646464" stroke-width="0.95"/>
<line x1="346.25" y1="80.06" x2="361.75" y2="80.06" stroke="#646464" stroke-width="0.95"/>
<line x1="345.73" y1="78.42" x2="362.27" y2="78.42" stroke="#646464" stroke-width="0.95"/>
<line x1="346.32" y1="76.78" x2="361.68" y2="76.78" stroke="#646464" stroke-width="0.95"/>
<line x1="347.51" y1="75.14" x2="360.49" y2="75.14" stroke="#646464" stroke-width="0.95"/>
<line x1="348.05" y1="73.50" x2="359.95" y2="73.50" stroke="#646464" stroke-width="0.95"/>
<circle cx="350.80" cy="71.28" r="0.65" fill="#646464" stroke="none" stroke-width="0.5"/>
<circle cx="353.00" cy="70.89" r="0.65" fill="#646464" stroke="none" stroke-width="0.5"/>
<circle cx="355.20" cy="71.28" r="0.65" fill="#646464" stroke="none" stroke-width="0.5"/>
<circle cx="357.40" cy="70.81" r="0.65" fill="#646464" stroke="none" stroke-width="0.5"/>
<circle cx="352.00" cy="69.33" r="0.65" fill="#646464" stroke="none" stroke-width="0.5"/>
<circle cx="354.40" cy="68.94" r="0.65" fill="#646464" stroke="none" stroke-width="0.5"/>
<circle cx="356.60" cy="69.41" r="0.65" fill="#646464" stroke="none" stroke-width="0.5"/>
<circle cx="353.40" cy="67.37" r="0.65" fill="#646464" stroke="none" stroke-width="0.5"/>
<circle cx="356.20" cy="67.37" r="0.65" fill="#646464" stroke="none" stroke-width="0.5"/>
<circle cx="350.60" cy="65.81" r="0.65" fill="#646464" stroke="none" stroke-width="0.5"/>
<circle cx="352.80" cy="65.50" r="0.65" fill="#646464" stroke="none" stroke-width="0.5"/>
<circle cx="355.60" cy="65.81" r="0.65" fill="#646464" stroke="none" stroke-width="0.5"/>
<circle cx="351.80" cy="63.46" r="0.65" fill="#646464" stroke="none" stroke-width="0.5"/>
<circle cx="354.40" cy="63.15" r="0.65" fill="#646464" stroke="none" stroke-width="0.5"/>
<circle cx="356.60" cy="63.46" r="0.65" fill="#646464" stroke="none" stroke-width="0.5"/>
<circle cx="358.20" cy="64.64" r="0.65" fill="#646464" stroke="none" stroke-width="0.5"/>
<circle cx="349.80" cy="61.12" r="0.65" fill="#646464" stroke="none" stroke-width="0.5"/>
<circle cx="351.60" cy="60.33" r="0.65" fill="#646464" stroke="none" stroke-width="0.5"/>
<circle cx="353.60" cy="60.80" r="0.65" fill="#646464" stroke="none" stroke-width="0.5"/>
<circle cx="355.60" cy="60.18" r="0.65" fill="#646464" stroke="none" stroke-width="0.5"/>
<circle cx="357.40" cy="61.12" r="0.65" fill="#646464" stroke="none" stroke-width="0.5"/>
<circle cx="359.00" cy="60.02" r="0.65" fill="#646464" stroke="none" stroke-width="0.5"/>
<circle cx="350.80" cy="58.61" r="0.65" fill="#646464" stroke="none" stroke-width="0.5"/>
<circle cx="352.80" cy="57.99" r="0.65" fill="#646464" stroke="none" stroke-width="0.5"/>
<circle cx="354.80" cy="58.46" r="0.65" fill="#646464" stroke="none" stroke-width="0.5"/>
<circle cx="356.60" cy="57.83" r="0.65" fill="#646464" stroke="none" stroke-width="0.5"/>
<circle cx="354.20" cy="50.56" r="0.65" fill="#646464" stroke="none" stroke-width="0.5"/>
<circle cx="354.40" cy="46.26" r="0.65" fill="#646464" stroke="none" stroke-width="0.5"/>
<line x1="373.01" y1="104.70" x2="386.19" y2="104.70" stroke="#a3219b" stroke-width="1.15" stroke-dasharray="1.5 0.35" stroke-dashoffset="0.82"/>
<line x1="371.55" y1="103.04" x2="387.65" y2="103.04" stroke="#a3219b" stroke-width="1.15" stroke-dasharray="1.5 0.35" stroke-dashoffset="0.91"/>
<line x1="371.26" y1="101.38" x2="387.94" y2="101.38" stroke="#a3219b" stroke-width="1.15" stroke-dasharray="1.5 0.35" stroke-dashoffset="0.10"/>
<line x1="371.96" y1="99.72" x2="387.24" y2="99.72" stroke="#a3219b" stroke-width="1.15" stroke-dasharray="1.5 0.35" stroke-dashoffset="1.26"/>
<line x1="371.68" y1="98.06" x2="387.52" y2="98.06" stroke="#a3219b" stroke-width="1.15" stroke-dasharray="1.5 0.35" stroke-dashoffset="0.35"/>
<line x1="370.83" y1="96.40" x2="388.37" y2="96.40" stroke="#a3219b" stroke-width="1.15" stroke-dasharray="1.5 0.35" stroke-dashoffset="0.71"/>
<line x1="371.22" y1="94.74" x2="387.98" y2="94.74" stroke="#a3219b" stroke-width="1.15" stroke-dasharray="1.5 0.35" stroke-dashoffset="0.71"/>
<line x1="371.66" y1="93.08" x2="387.54" y2="93.08" stroke="#a3219b" stroke-width="1.15" stroke-dasharray="1.5 0.35" stroke-dashoffset="0.23"/>
<line x1="371.88" y1="91.42" x2="387.32" y2="91.42" stroke="#a3219b" stroke-width="1.15" stroke-dasharray="1.5 0.35" stroke-dashoffset="1.30"/>
<line x1="372.21" y1="89.76" x2="386.99" y2="89.76" stroke="#a3219b" stroke-width="1.15" stroke-dasharray="1.5 0.35" stroke-dashoffset="1.11"/>
<line x1="372.28" y1="88.10" x2="386.92" y2="88.10" stroke="#a3219b" stroke-width="1.15" stroke-dasharray="1.2 0.8" stroke-dashoffset="0.10"/>
<line x1="372.41" y1="86.44" x2="386.79" y2="86.44" stroke="#a3219b" stroke-width="1.15" stroke-dasharray="1.2 0.8" stroke-dashoffset="0.89"/>
<line x1="373.06" y1="84.78" x2="386.14" y2="84.78" stroke="#a3219b" stroke-width="1.15" stroke-dasharray="1.2 0.8" stroke-dashoffset="0.05"/>
<line x1="372.94" y1="83.12" x2="386.26" y2="83.12" stroke="#a3219b" stroke-width="1.15" stroke-dasharray="1.2 0.8" stroke-dashoffset="0.71"/>
<line x1="373.50" y1="81.46" x2="385.70" y2="81.46" stroke="#a3219b" stroke-width="1.15" stroke-dasharray="1.2 0.8" stroke-dashoffset="1.32"/>
<line x1="374.00" y1="79.80" x2="385.20" y2="79.80" stroke="#a3219b" stroke-width="1.15" stroke-dasharray="1.2 1.5" stroke-dashoffset="1.38"/>
<line x1="374.90" y1="78.14" x2="384.30" y2="78.14" stroke="#a3219b" stroke-width="1.15" stroke-dasharray="1.2 1.5" stroke-dashoffset="1.20"/>
<line x1="375.56" y1="76.48" x2="383.64" y2="76.48" stroke="#a3219b" stroke-width="1.15" stroke-dasharray="1.2 1.5" stroke-dashoffset="1.40"/>
<line x1="376.07" y1="74.82" x2="383.13" y2="74.82" stroke="#a3219b" stroke-width="1.15" stroke-dasharray="1.2 1.5" stroke-dashoffset="0.15"/>
<circle cx="377.60" cy="71.67" r="0.70" fill="#a3219b" stroke="none" stroke-width="0.5"/>
<circle cx="380.40" cy="71.28" r="0.70" fill="#a3219b" stroke="none" stroke-width="0.5"/>
<circle cx="383.00" cy="71.75" r="0.70" fill="#a3219b" stroke="none" stroke-width="0.5"/>
<circle cx="380.20" cy="69.33" r="0.70" fill="#a3219b" stroke="none" stroke-width="0.5"/>
<circle cx="382.80" cy="68.94" r="0.70" fill="#a3219b" stroke="none" stroke-width="0.5"/>
<circle cx="378.40" cy="65.03" r="0.70" fill="#a3219b" stroke="none" stroke-width="0.5"/>
<circle cx="381.00" cy="66.59" r="0.70" fill="#a3219b" stroke="none" stroke-width="0.5"/>
<circle cx="378.80" cy="60.80" r="0.70" fill="#a3219b" stroke="none" stroke-width="0.5"/>
<circle cx="380.20" cy="55.64" r="0.70" fill="#a3219b" stroke="none" stroke-width="0.5"/>
<circle cx="380.00" cy="48.60" r="0.70" fill="#a3219b" stroke="none" stroke-width="0.5"/>
<line x1="345.40" y1="93.96" x2="362.60" y2="93.96" stroke="#000" stroke-width="0.8"/>
<line x1="354.00" y1="102.87" x2="354.00" y2="85.36" stroke="#000" stroke-width="0.8"/>
<line x1="350.40" y1="102.87" x2="357.60" y2="102.87" stroke="#000" stroke-width="0.8"/>
<line x1="350.40" y1="85.36" x2="357.60" y2="85.36" stroke="#000" stroke-width="0.8"/>
<line x1="372.20" y1="92.71" x2="387.00" y2="92.71" stroke="#000" stroke-width="0.8"/>
<line x1="379.60" y1="103.97" x2="379.60" y2="82.54" stroke="#000" stroke-width="0.8"/>
<line x1="376.00" y1="103.97" x2="383.20" y2="103.97" stroke="#000" stroke-width="0.8"/>
<line x1="376.00" y1="82.54" x2="383.20" y2="82.54" stroke="#000" stroke-width="0.8"/>
<line x1="335.50" y1="110.05" x2="335.50" y2="30.95" stroke="#000" stroke-width="0.9"/>
<line x1="333.10" y1="109.60" x2="335.50" y2="109.60" stroke="#000" stroke-width="0.9"/>
<text transform="translate(332.10,111.58) scale(0.85,1)" font-size="5.5" font-weight="bold" text-anchor="end" fill="#000" stroke="#000" stroke-width="0.20">0</text>
<line x1="333.10" y1="93.96" x2="335.50" y2="93.96" stroke="#000" stroke-width="0.9"/>
<text transform="translate(332.10,95.94) scale(0.85,1)" font-size="5.5" font-weight="bold" text-anchor="end" fill="#000" stroke="#000" stroke-width="0.20">20</text>
<line x1="333.10" y1="78.32" x2="335.50" y2="78.32" stroke="#000" stroke-width="0.9"/>
<text transform="translate(332.10,80.30) scale(0.85,1)" font-size="5.5" font-weight="bold" text-anchor="end" fill="#000" stroke="#000" stroke-width="0.20">40</text>
<line x1="333.10" y1="62.68" x2="335.50" y2="62.68" stroke="#000" stroke-width="0.9"/>
<text transform="translate(332.10,64.66) scale(0.85,1)" font-size="5.5" font-weight="bold" text-anchor="end" fill="#000" stroke="#000" stroke-width="0.20">60</text>
<line x1="333.10" y1="47.04" x2="335.50" y2="47.04" stroke="#000" stroke-width="0.9"/>
<text transform="translate(332.10,49.02) scale(0.85,1)" font-size="5.5" font-weight="bold" text-anchor="end" fill="#000" stroke="#000" stroke-width="0.20">80</text>
<line x1="333.10" y1="31.40" x2="335.50" y2="31.40" stroke="#000" stroke-width="0.9"/>
<text transform="translate(332.10,33.38) scale(0.85,1)" font-size="5.5" font-weight="bold" text-anchor="end" fill="#000" stroke="#000" stroke-width="0.20">100</text>
<line x1="335.00" y1="109.50" x2="396.00" y2="109.50" stroke="#000" stroke-width="0.9"/>
<line x1="353.80" y1="109.60" x2="353.80" y2="112.00" stroke="#000" stroke-width="0.9"/>
<line x1="379.60" y1="109.60" x2="379.60" y2="112.00" stroke="#000" stroke-width="0.9"/>
<text transform="translate(353.80,120.40) scale(0.82,1)" font-size="8.6" font-weight="bold" text-anchor="middle" fill="#000" stroke="#000" stroke-width="0.31">Naive</text>
<text transform="translate(350.00,130.20) scale(0.82,1)" font-size="8.6" font-weight="bold" text-anchor="middle" fill="#000" stroke="#000" stroke-width="0.31">MM</text>
<text transform="translate(379.60,120.40) scale(0.82,1)" font-size="8.6" font-weight="bold" text-anchor="middle" fill="#000" stroke="#000" stroke-width="0.31">Post Tx</text>
<text transform="translate(379.60,130.20) scale(0.82,1)" font-size="8.6" font-weight="bold" text-anchor="middle" fill="#000" stroke="#000" stroke-width="0.31">MM</text>
<text transform="translate(352.60,40.40) scale(0.82,1)" font-size="7.2" font-weight="bold" text-anchor="start" fill="#000" stroke="#000" stroke-width="0.26"><tspan font-style="italic">P</tspan> = 0.0104</text>
<line x1="350.50" y1="41.60" x2="381.80" y2="41.60" stroke="#000" stroke-width="0.8"/>
<text transform="translate(321.40,70.60) rotate(-90) scale(0.82,1)" font-size="7.9" font-weight="bold" text-anchor="middle" fill="#000" stroke="#000" stroke-width="0.28"><tspan font-style="italic">TOP1</tspan> mRNA (TPM)</text>
<line x1="451.50" y1="110.25" x2="451.50" y2="30.75" stroke="#000" stroke-width="0.9"/>
<line x1="449.10" y1="109.80" x2="451.50" y2="109.80" stroke="#000" stroke-width="0.9"/>
<text transform="translate(448.10,111.78) scale(0.85,1)" font-size="5.5" font-weight="bold" text-anchor="end" fill="#000" stroke="#000" stroke-width="0.20">0</text>
<line x1="449.10" y1="94.08" x2="451.50" y2="94.08" stroke="#000" stroke-width="0.9"/>
<text transform="translate(448.10,96.06) scale(0.85,1)" font-size="5.5" font-weight="bold" text-anchor="end" fill="#000" stroke="#000" stroke-width="0.20">10</text>
<line x1="449.10" y1="78.36" x2="451.50" y2="78.36" stroke="#000" stroke-width="0.9"/>
<text transform="translate(448.10,80.34) scale(0.85,1)" font-size="5.5" font-weight="bold" text-anchor="end" fill="#000" stroke="#000" stroke-width="0.20">20</text>
<line x1="449.10" y1="62.64" x2="451.50" y2="62.64" stroke="#000" stroke-width="0.9"/>
<text transform="translate(448.10,64.62) scale(0.85,1)" font-size="5.5" font-weight="bold" text-anchor="end" fill="#000" stroke="#000" stroke-width="0.20">30</text>
<line x1="449.10" y1="46.92" x2="451.50" y2="46.92" stroke="#000" stroke-width="0.9"/>
<text transform="translate(448.10,48.90) scale(0.85,1)" font-size="5.5" font-weight="bold" text-anchor="end" fill="#000" stroke="#000" stroke-width="0.20">40</text>
<line x1="449.10" y1="31.20" x2="451.50" y2="31.20" stroke="#000" stroke-width="0.9"/>
<text transform="translate(448.10,33.18) scale(0.85,1)" font-size="5.5" font-weight="bold" text-anchor="end" fill="#000" stroke="#000" stroke-width="0.20">50</text>
<line x1="451.00" y1="109.50" x2="513.00" y2="109.50" stroke="#000" stroke-width="0.9"/>
<line x1="465.50" y1="109.80" x2="465.50" y2="112.20" stroke="#000" stroke-width="0.9"/>
<line x1="484.50" y1="109.80" x2="484.50" y2="112.20" stroke="#000" stroke-width="0.9"/>
<line x1="504.50" y1="109.80" x2="504.50" y2="112.20" stroke="#000" stroke-width="0.9"/>
<line x1="465.50" y1="64.53" x2="465.50" y2="93.45" stroke="#222" stroke-width="1.0"/>
<line x1="463.20" y1="64.53" x2="467.80" y2="64.53" stroke="#222" stroke-width="1.0"/>
<line x1="463.20" y1="93.45" x2="467.80" y2="93.45" stroke="#222" stroke-width="1.0"/>
<line x1="484.50" y1="54.15" x2="484.50" y2="96.60" stroke="#222" stroke-width="1.0"/>
<line x1="482.20" y1="54.15" x2="486.80" y2="54.15" stroke="#222" stroke-width="1.0"/>
<line x1="482.20" y1="96.60" x2="486.80" y2="96.60" stroke="#222" stroke-width="1.0"/>
<line x1="504.50" y1="37.80" x2="504.50" y2="87.01" stroke="#222" stroke-width="1.0"/>
<line x1="502.20" y1="37.80" x2="506.80" y2="37.80" stroke="#222" stroke-width="1.0"/>
<line x1="502.20" y1="87.01" x2="506.80" y2="87.01" stroke="#222" stroke-width="1.0"/>
<path d="M465.50 79.15 L484.50 75.37 L504.50 62.64" stroke="#000" stroke-width="1.0" fill="none"/>
<circle cx="465.50" cy="79.15" r="2.15" fill="#000" stroke="none" stroke-width="0.5"/>
<circle cx="484.50" cy="75.37" r="2.15" fill="#000" stroke="none" stroke-width="0.5"/>
<circle cx="504.50" cy="62.64" r="2.15" fill="#000" stroke="none" stroke-width="0.5"/>
<text transform="translate(468.90,115.40) rotate(-60) scale(0.82,1)" font-size="8.4" font-weight="bold" text-anchor="end" fill="#000" stroke="#000" stroke-width="0.30" font-style="italic">1<tspan font-size="6" dy="-2.4">st</tspan></text>
<text transform="translate(487.90,115.40) rotate(-60) scale(0.82,1)" font-size="8.4" font-weight="bold" text-anchor="end" fill="#000" stroke="#000" stroke-width="0.30" font-style="italic">2<tspan font-size="6" dy="-2.4">nd</tspan></text>
<text transform="translate(507.90,115.40) rotate(-60) scale(0.82,1)" font-size="8.4" font-weight="bold" text-anchor="end" fill="#000" stroke="#000" stroke-width="0.30" font-style="italic">3<tspan font-size="6" dy="-2.4">rd</tspan></text>
<text transform="translate(484.40,136.60) scale(0.82,1)" font-size="9.5" font-weight="bold" text-anchor="middle" fill="#000" stroke="#000" stroke-width="0.34">BM sample</text>
<text transform="translate(437.00,70.20) rotate(-90) scale(0.82,1)" font-size="7.9" font-weight="bold" text-anchor="middle" fill="#000" stroke="#000" stroke-width="0.28" font-style="italic">TOP1 mRNA (TPM)</text>
<text transform="translate(1.80,165.00)" font-size="12.3" font-weight="bold" text-anchor="start" fill="#000" stroke="#000" stroke-width="0.44">E</text>
<text transform="translate(212.60,166.20)" font-size="12.3" font-weight="bold" text-anchor="start" fill="#000" stroke="#000" stroke-width="0.44">F</text>
<text transform="translate(312.20,166.20)" font-size="12.3" font-weight="bold" text-anchor="start" fill="#000" stroke="#000" stroke-width="0.44">G</text>
<text transform="translate(429.20,166.20)" font-size="12.3" font-weight="bold" text-anchor="start" fill="#000" stroke="#000" stroke-width="0.44">H</text>
<line x1="19.60" y1="253.40" x2="19.60" y2="176.00" stroke="#111" stroke-width="1.0"/>
<path d="M17.50 176.80 L19.60 172.60 L21.70 176.80 Z" stroke="#111" stroke-width="0.2" fill="#111"/>
<line x1="19.10" y1="253.50" x2="191.00" y2="253.50" stroke="#111" stroke-width="1.0"/>
<path d="M190.40 251.40 L194.80 253.50 L190.40 255.60 Z" stroke="#111" stroke-width="0.2" fill="#111"/>
<text transform="translate(14.20,213.60) rotate(-90) scale(0.82,1)" font-size="9.3" font-weight="bold" text-anchor="middle" fill="#000" stroke="#000" stroke-width="0.33">Propidium iodide</text>
<text transform="translate(51.40,188.20) scale(0.82,1)" font-size="9.6" font-weight="bold" text-anchor="middle" fill="#000" stroke="#000" stroke-width="0.35">Vehicle</text>
<text transform="translate(136.40,176.20) scale(0.82,1)" font-size="8.7" font-weight="bold" text-anchor="middle" fill="#000" stroke="#000" stroke-width="0.31">[Camptothecin]</text>
<text transform="translate(109.60,188.20) scale(0.82,1)" font-size="9.4" font-weight="bold" text-anchor="middle" fill="#000" stroke="#000" stroke-width="0.34">0.03 µmol/L</text>
<text transform="translate(161.20,188.20) scale(0.82,1)" font-size="9.4" font-weight="bold" text-anchor="middle" fill="#000" stroke="#000" stroke-width="0.34">3 µmol/L</text>
<text transform="translate(22.40,267.40) scale(0.9,1)" font-size="8.0" font-weight="normal" text-anchor="start" fill="#2e2e2e" stroke="#2e2e2e" stroke-width="0.45">RPMI8226</text>
<text transform="translate(103.20,275.20) scale(0.82,1)" font-size="9.4" font-weight="bold" text-anchor="middle" fill="#000" stroke="#000" stroke-width="0.34">Annexin-V</text>
<rect x="30.20" y="192.40" width="48.10" height="52.40" fill="#fff" stroke="#7a7a7a" stroke-width="0.55"/>
<clipPath id="fc30"><rect x="30.2" y="192.4" width="48.099999999999994" height="52.400000000000006"/></clipPath><g clip-path="url(#fc30)">
<ellipse cx="41.60" cy="235.60" rx="11.00" ry="4.60" transform="rotate(-21 41.60 235.60)" fill="#000" opacity="0.3" filter="url(#b3)"/>
<ellipse cx="40.40" cy="236.10" rx="8.20" ry="3.00" transform="rotate(-21 40.40 236.10)" fill="#000" opacity="0.72" filter="url(#b2)"/>
<ellipse cx="40.00" cy="236.30" rx="5.40" ry="1.70" transform="rotate(-21 40.00 236.30)" fill="#000" opacity="0.95" filter="url(#b1)"/>
<ellipse cx="48.80" cy="230.40" rx="3.60" ry="2.60" transform="rotate(-30 48.80 230.40)" fill="#000" opacity="0.22" filter="url(#b3)"/>
<ellipse cx="52.80" cy="211.20" rx="2.40" ry="6.80" transform="rotate(5 52.80 211.20)" fill="#000" opacity="0.17" filter="url(#b3)"/>
<ellipse cx="56.80" cy="228.00" rx="2.60" ry="1.80" transform="rotate(-30 56.80 228.00)" fill="#000" opacity="0.1" filter="url(#b3)"/>
<rect x="30.2" y="243.5" width="24" height="1.3" fill="#000" opacity="0.45" filter="url(#b1)"/>
</g>
<rect x="30.20" y="192.40" width="48.10" height="52.40" fill="none" stroke="#7a7a7a" stroke-width="0.55"/>
<line x1="30.20" y1="224.30" x2="78.30" y2="224.30" stroke="#5a5a5a" stroke-width="0.55"/>
<line x1="47.40" y1="192.40" x2="47.40" y2="224.30" stroke="#5a5a5a" stroke-width="0.55"/>
<line x1="49.50" y1="224.30" x2="49.50" y2="244.80" stroke="#6a6a6a" stroke-width="0.55"/>
<line x1="28.90" y1="194.92" x2="30.20" y2="194.92" stroke="#666" stroke-width="0.4"/>
<text transform="translate(28.60,195.52) scale(0.9,1)" font-size="2.3" font-weight="normal" text-anchor="end" fill="#777">10</text>
<line x1="28.90" y1="205.97" x2="30.20" y2="205.97" stroke="#666" stroke-width="0.4"/>
<text transform="translate(28.60,206.57) scale(0.9,1)" font-size="2.3" font-weight="normal" text-anchor="end" fill="#777">10</text>
<line x1="28.90" y1="219.23" x2="30.20" y2="219.23" stroke="#666" stroke-width="0.4"/>
<text transform="translate(28.60,219.83) scale(0.9,1)" font-size="2.3" font-weight="normal" text-anchor="end" fill="#777">10</text>
<line x1="28.90" y1="231.91" x2="30.20" y2="231.91" stroke="#666" stroke-width="0.4"/>
<text transform="translate(28.60,232.51) scale(0.9,1)" font-size="2.3" font-weight="normal" text-anchor="end" fill="#777">10</text>
<line x1="28.90" y1="244.01" x2="30.20" y2="244.01" stroke="#666" stroke-width="0.4"/>
<text transform="translate(28.60,244.61) scale(0.9,1)" font-size="2.3" font-weight="normal" text-anchor="end" fill="#777">10</text>
<line x1="32.51" y1="244.80" x2="32.51" y2="246.10" stroke="#666" stroke-width="0.4"/>
<text transform="translate(32.51,248.40) scale(0.9,1)" font-size="2.3" font-weight="normal" text-anchor="middle" fill="#777">10</text>
<line x1="43.52" y1="244.80" x2="43.52" y2="246.10" stroke="#666" stroke-width="0.4"/>
<text transform="translate(43.52,248.40) scale(0.9,1)" font-size="2.3" font-weight="normal" text-anchor="middle" fill="#777">10</text>
<line x1="55.93" y1="244.80" x2="55.93" y2="246.10" stroke="#666" stroke-width="0.4"/>
<text transform="translate(55.93,248.40) scale(0.9,1)" font-size="2.3" font-weight="normal" text-anchor="middle" fill="#777">10</text>
<line x1="67.72" y1="244.80" x2="67.72" y2="246.10" stroke="#666" stroke-width="0.4"/>
<text transform="translate(67.72,248.40) scale(0.9,1)" font-size="2.3" font-weight="normal" text-anchor="middle" fill="#777">10</text>
<line x1="77.10" y1="244.80" x2="77.10" y2="246.10" stroke="#666" stroke-width="0.4"/>
<text transform="translate(77.10,248.40) scale(0.9,1)" font-size="2.3" font-weight="normal" text-anchor="middle" fill="#777">10</text>
<text transform="translate(33.80,196.40) scale(1.6,1)" font-size="2.2" font-weight="normal" text-anchor="middle" fill="#999">Q</text>
<text transform="translate(73.10,196.40) scale(1.6,1)" font-size="2.2" font-weight="normal" text-anchor="middle" fill="#999">Q</text>
<text transform="translate(33.80,242.80) scale(1.6,1)" font-size="2.2" font-weight="normal" text-anchor="middle" fill="#999">Q</text>
<text transform="translate(73.10,242.80) scale(1.6,1)" font-size="2.2" font-weight="normal" text-anchor="middle" fill="#999">Q</text>
<rect x="85.80" y="192.40" width="47.90" height="52.40" fill="#fff" stroke="#7a7a7a" stroke-width="0.55"/>
<clipPath id="fc85"><rect x="85.8" y="192.4" width="47.89999999999999" height="52.400000000000006"/></clipPath><g clip-path="url(#fc85)">
<ellipse cx="97.20" cy="235.20" rx="11.20" ry="4.70" transform="rotate(-22 97.20 235.20)" fill="#000" opacity="0.3" filter="url(#b3)"/>
<ellipse cx="96.00" cy="235.70" rx="8.40" ry="3.10" transform="rotate(-22 96.00 235.70)" fill="#000" opacity="0.74" filter="url(#b2)"/>
<ellipse cx="95.60" cy="235.90" rx="5.60" ry="1.80" transform="rotate(-22 95.60 235.90)" fill="#000" opacity="0.95" filter="url(#b1)"/>
<ellipse cx="104.60" cy="229.40" rx="3.80" ry="2.80" transform="rotate(-35 104.60 229.40)" fill="#000" opacity="0.28" filter="url(#b3)"/>
<ellipse cx="108.80" cy="211.00" rx="2.40" ry="6.80" transform="rotate(4 108.80 211.00)" fill="#000" opacity="0.19" filter="url(#b3)"/>
<ellipse cx="108.60" cy="221.50" rx="2.00" ry="3.00" transform="rotate(0 108.60 221.50)" fill="#000" opacity="0.13" filter="url(#b3)"/>
<ellipse cx="111.20" cy="229.00" rx="2.20" ry="2.00" transform="rotate(0 111.20 229.00)" fill="#000" opacity="0.14" filter="url(#b3)"/>
<rect x="85.8" y="243.5" width="24" height="1.3" fill="#000" opacity="0.45" filter="url(#b1)"/>
</g>
<rect x="85.80" y="192.40" width="47.90" height="52.40" fill="none" stroke="#7a7a7a" stroke-width="0.55"/>
<line x1="85.80" y1="224.30" x2="133.70" y2="224.30" stroke="#5a5a5a" stroke-width="0.55"/>
<line x1="102.50" y1="192.40" x2="102.50" y2="224.30" stroke="#5a5a5a" stroke-width="0.55"/>
<line x1="105.40" y1="224.30" x2="105.40" y2="244.80" stroke="#6a6a6a" stroke-width="0.55"/>
<line x1="84.50" y1="194.92" x2="85.80" y2="194.92" stroke="#666" stroke-width="0.4"/>
<text transform="translate(84.20,195.52) scale(0.9,1)" font-size="2.3" font-weight="normal" text-anchor="end" fill="#777">10</text>
<line x1="84.50" y1="205.97" x2="85.80" y2="205.97" stroke="#666" stroke-width="0.4"/>
<text transform="translate(84.20,206.57) scale(0.9,1)" font-size="2.3" font-weight="normal" text-anchor="end" fill="#777">10</text>
<line x1="84.50" y1="219.23" x2="85.80" y2="219.23" stroke="#666" stroke-width="0.4"/>
<text transform="translate(84.20,219.83) scale(0.9,1)" font-size="2.3" font-weight="normal" text-anchor="end" fill="#777">10</text>
<line x1="84.50" y1="231.91" x2="85.80" y2="231.91" stroke="#666" stroke-width="0.4"/>
<text transform="translate(84.20,232.51) scale(0.9,1)" font-size="2.3" font-weight="normal" text-anchor="end" fill="#777">10</text>
<line x1="84.50" y1="244.01" x2="85.80" y2="244.01" stroke="#666" stroke-width="0.4"/>
<text transform="translate(84.20,244.61) scale(0.9,1)" font-size="2.3" font-weight="normal" text-anchor="end" fill="#777">10</text>
<line x1="88.10" y1="244.80" x2="88.10" y2="246.10" stroke="#666" stroke-width="0.4"/>
<text transform="translate(88.10,248.40) scale(0.9,1)" font-size="2.3" font-weight="normal" text-anchor="middle" fill="#777">10</text>
<line x1="99.07" y1="244.80" x2="99.07" y2="246.10" stroke="#666" stroke-width="0.4"/>
<text transform="translate(99.07,248.40) scale(0.9,1)" font-size="2.3" font-weight="normal" text-anchor="middle" fill="#777">10</text>
<line x1="111.43" y1="244.80" x2="111.43" y2="246.10" stroke="#666" stroke-width="0.4"/>
<text transform="translate(111.43,248.40) scale(0.9,1)" font-size="2.3" font-weight="normal" text-anchor="middle" fill="#777">10</text>
<line x1="123.16" y1="244.80" x2="123.16" y2="246.10" stroke="#666" stroke-width="0.4"/>
<text transform="translate(123.16,248.40) scale(0.9,1)" font-size="2.3" font-weight="normal" text-anchor="middle" fill="#777">10</text>
<line x1="132.50" y1="244.80" x2="132.50" y2="246.10" stroke="#666" stroke-width="0.4"/>
<text transform="translate(132.50,248.40) scale(0.9,1)" font-size="2.3" font-weight="normal" text-anchor="middle" fill="#777">10</text>
<text transform="translate(89.40,196.40) scale(1.6,1)" font-size="2.2" font-weight="normal" text-anchor="middle" fill="#999">Q</text>
<text transform="translate(128.50,196.40) scale(1.6,1)" font-size="2.2" font-weight="normal" text-anchor="middle" fill="#999">Q</text>
<text transform="translate(89.40,242.80) scale(1.6,1)" font-size="2.2" font-weight="normal" text-anchor="middle" fill="#999">Q</text>
<text transform="translate(128.50,242.80) scale(1.6,1)" font-size="2.2" font-weight="normal" text-anchor="middle" fill="#999">Q</text>
<rect x="140.50" y="192.40" width="48.40" height="52.40" fill="#fff" stroke="#7a7a7a" stroke-width="0.55"/>
<clipPath id="fc140"><rect x="140.5" y="192.4" width="48.400000000000006" height="52.400000000000006"/></clipPath><g clip-path="url(#fc140)">
<ellipse cx="163.40" cy="213.50" rx="3.80" ry="9.50" transform="rotate(8 163.40 213.50)" fill="#000" opacity="0.3" filter="url(#b3)"/>
<ellipse cx="163.40" cy="209.90" rx="2.30" ry="4.80" transform="rotate(24 163.40 209.90)" fill="#000" opacity="0.97" filter="url(#b1)"/>
<ellipse cx="163.30" cy="210.40" rx="3.30" ry="6.00" transform="rotate(22 163.30 210.40)" fill="#000" opacity="0.55" filter="url(#b2)"/>
<ellipse cx="162.80" cy="219.80" rx="2.30" ry="3.40" transform="rotate(0 162.80 219.80)" fill="#000" opacity="0.72" filter="url(#b2)"/>
<ellipse cx="163.20" cy="227.80" rx="2.30" ry="3.40" transform="rotate(0 163.20 227.80)" fill="#000" opacity="0.28" filter="url(#b3)"/>
<ellipse cx="154.20" cy="210.50" rx="1.80" ry="2.60" transform="rotate(0 154.20 210.50)" fill="#000" opacity="0.1" filter="url(#b3)"/>
<ellipse cx="155.20" cy="233.00" rx="1.80" ry="2.40" transform="rotate(0 155.20 233.00)" fill="#000" opacity="0.1" filter="url(#b3)"/>
</g>
<rect x="140.50" y="192.40" width="48.40" height="52.40" fill="none" stroke="#7a7a7a" stroke-width="0.55"/>
<line x1="140.50" y1="224.30" x2="188.90" y2="224.30" stroke="#5a5a5a" stroke-width="0.55"/>
<line x1="157.30" y1="192.40" x2="157.30" y2="224.30" stroke="#5a5a5a" stroke-width="0.55"/>
<line x1="159.50" y1="224.30" x2="159.50" y2="244.80" stroke="#6a6a6a" stroke-width="0.55"/>
<line x1="139.20" y1="194.92" x2="140.50" y2="194.92" stroke="#666" stroke-width="0.4"/>
<text transform="translate(138.90,195.52) scale(0.9,1)" font-size="2.3" font-weight="normal" text-anchor="end" fill="#777">10</text>
<line x1="139.20" y1="205.97" x2="140.50" y2="205.97" stroke="#666" stroke-width="0.4"/>
<text transform="translate(138.90,206.57) scale(0.9,1)" font-size="2.3" font-weight="normal" text-anchor="end" fill="#777">10</text>
<line x1="139.20" y1="219.23" x2="140.50" y2="219.23" stroke="#666" stroke-width="0.4"/>
<text transform="translate(138.90,219.83) scale(0.9,1)" font-size="2.3" font-weight="normal" text-anchor="end" fill="#777">10</text>
<line x1="139.20" y1="231.91" x2="140.50" y2="231.91" stroke="#666" stroke-width="0.4"/>
<text transform="translate(138.90,232.51) scale(0.9,1)" font-size="2.3" font-weight="normal" text-anchor="end" fill="#777">10</text>
<line x1="139.20" y1="244.01" x2="140.50" y2="244.01" stroke="#666" stroke-width="0.4"/>
<text transform="translate(138.90,244.61) scale(0.9,1)" font-size="2.3" font-weight="normal" text-anchor="end" fill="#777">10</text>
<line x1="142.82" y1="244.80" x2="142.82" y2="246.10" stroke="#666" stroke-width="0.4"/>
<text transform="translate(142.82,248.40) scale(0.9,1)" font-size="2.3" font-weight="normal" text-anchor="middle" fill="#777">10</text>
<line x1="153.91" y1="244.80" x2="153.91" y2="246.10" stroke="#666" stroke-width="0.4"/>
<text transform="translate(153.91,248.40) scale(0.9,1)" font-size="2.3" font-weight="normal" text-anchor="middle" fill="#777">10</text>
<line x1="166.39" y1="244.80" x2="166.39" y2="246.10" stroke="#666" stroke-width="0.4"/>
<text transform="translate(166.39,248.40) scale(0.9,1)" font-size="2.3" font-weight="normal" text-anchor="middle" fill="#777">10</text>
<line x1="178.25" y1="244.80" x2="178.25" y2="246.10" stroke="#666" stroke-width="0.4"/>
<text transform="translate(178.25,248.40) scale(0.9,1)" font-size="2.3" font-weight="normal" text-anchor="middle" fill="#777">10</text>
<line x1="187.69" y1="244.80" x2="187.69" y2="246.10" stroke="#666" stroke-width="0.4"/>
<text transform="translate(187.69,248.40) scale(0.9,1)" font-size="2.3" font-weight="normal" text-anchor="middle" fill="#777">10</text>
<text transform="translate(144.10,196.40) scale(1.6,1)" font-size="2.2" font-weight="normal" text-anchor="middle" fill="#999">Q</text>
<text transform="translate(183.70,196.40) scale(1.6,1)" font-size="2.2" font-weight="normal" text-anchor="middle" fill="#999">Q</text>
<text transform="translate(144.10,242.80) scale(1.6,1)" font-size="2.2" font-weight="normal" text-anchor="middle" fill="#999">Q</text>
<text transform="translate(183.70,242.80) scale(1.6,1)" font-size="2.2" font-weight="normal" text-anchor="middle" fill="#999">Q</text>
<rect x="244.40" y="192.48" width="11.00" height="59.52" fill="#c9c9c9" stroke="#111" stroke-width="0.9"/>
<line x1="249.50" y1="184.46" x2="249.50" y2="200.19" stroke="#000" stroke-width="0.8"/>
<line x1="247.50" y1="184.46" x2="251.50" y2="184.46" stroke="#000" stroke-width="0.8"/>
<line x1="247.50" y1="200.19" x2="251.50" y2="200.19" stroke="#000" stroke-width="0.8"/>
<circle cx="250.30" cy="179.83" r="0.95" fill="#111" stroke="none" stroke-width="0.5"/>
<circle cx="249.00" cy="191.55" r="0.95" fill="#111" stroke="none" stroke-width="0.5"/>
<circle cx="251.20" cy="192.17" r="0.95" fill="#111" stroke="none" stroke-width="0.5"/>
<circle cx="250.30" cy="195.25" r="0.95" fill="#111" stroke="none" stroke-width="0.5"/>
<circle cx="251.50" cy="197.72" r="0.95" fill="#111" stroke="none" stroke-width="0.5"/>
<circle cx="250.80" cy="200.81" r="0.95" fill="#111" stroke="none" stroke-width="0.5"/>
<circle cx="249.70" cy="197.72" r="0.95" fill="#111" stroke="none" stroke-width="0.5"/>
<line x1="262.60" y1="251.00" x2="269.00" y2="251.00" stroke="#e8746c" stroke-width="0.9"/>
<line x1="266.20" y1="250.20" x2="269.40" y2="249.20" stroke="#e8746c" stroke-width="0.6"/>
<line x1="279.40" y1="251.00" x2="285.60" y2="251.00" stroke="#e8746c" stroke-width="0.9"/>
<line x1="239.50" y1="252.45" x2="239.50" y2="174.45" stroke="#000" stroke-width="0.9"/>
<line x1="237.10" y1="252.00" x2="239.50" y2="252.00" stroke="#000" stroke-width="0.9"/>
<text transform="translate(236.10,254.02) scale(0.85,1)" font-size="5.6" font-weight="bold" text-anchor="end" fill="#000" stroke="#000" stroke-width="0.20">0</text>
<line x1="237.10" y1="236.58" x2="239.50" y2="236.58" stroke="#000" stroke-width="0.9"/>
<text transform="translate(236.10,238.60) scale(0.85,1)" font-size="5.6" font-weight="bold" text-anchor="end" fill="#000" stroke="#000" stroke-width="0.20">5</text>
<line x1="237.10" y1="221.16" x2="239.50" y2="221.16" stroke="#000" stroke-width="0.9"/>
<text transform="translate(236.10,223.18) scale(0.85,1)" font-size="5.6" font-weight="bold" text-anchor="end" fill="#000" stroke="#000" stroke-width="0.20">10</text>
<line x1="237.10" y1="205.74" x2="239.50" y2="205.74" stroke="#000" stroke-width="0.9"/>
<text transform="translate(236.10,207.76) scale(0.85,1)" font-size="5.6" font-weight="bold" text-anchor="end" fill="#000" stroke="#000" stroke-width="0.20">15</text>
<line x1="237.10" y1="190.32" x2="239.50" y2="190.32" stroke="#000" stroke-width="0.9"/>
<text transform="translate(236.10,192.34) scale(0.85,1)" font-size="5.6" font-weight="bold" text-anchor="end" fill="#000" stroke="#000" stroke-width="0.20">20</text>
<line x1="237.10" y1="174.90" x2="239.50" y2="174.90" stroke="#000" stroke-width="0.9"/>
<text transform="translate(236.10,176.92) scale(0.85,1)" font-size="5.6" font-weight="bold" text-anchor="end" fill="#000" stroke="#000" stroke-width="0.20">25</text>
<line x1="239.00" y1="251.90" x2="292.60" y2="251.90" stroke="#4a4a4a" stroke-width="1.7"/>
<line x1="249.90" y1="252.00" x2="249.90" y2="256.20" stroke="#000" stroke-width="0.9"/>
<line x1="266.20" y1="252.00" x2="266.20" y2="256.20" stroke="#000" stroke-width="0.9"/>
<line x1="282.60" y1="252.00" x2="282.60" y2="256.20" stroke="#000" stroke-width="0.9"/>
<text transform="translate(266.80,248.00) scale(0.8,1)" font-size="7.0" font-weight="bold" text-anchor="middle" fill="#000" stroke="#000" stroke-width="0.25">***</text>
<text transform="translate(282.80,248.00) scale(0.8,1)" font-size="7.0" font-weight="bold" text-anchor="middle" fill="#000" stroke="#000" stroke-width="0.25">***</text>
<text transform="translate(256.00,177.40) scale(0.9,1)" font-size="8.0" font-weight="normal" text-anchor="start" fill="#2e2e2e" stroke="#2e2e2e" stroke-width="0.45">MM.1S</text>
<text transform="translate(251.70,262.20) rotate(-45) scale(0.82,1)" font-size="8.0" font-weight="bold" text-anchor="end" fill="#000" stroke="#000" stroke-width="0.29">0</text>
<text transform="translate(268.00,262.20) rotate(-45) scale(0.82,1)" font-size="8.0" font-weight="bold" text-anchor="end" fill="#000" stroke="#000" stroke-width="0.29">0.015</text>
<text transform="translate(284.40,262.20) rotate(-45) scale(0.82,1)" font-size="8.0" font-weight="bold" text-anchor="end" fill="#000" stroke="#000" stroke-width="0.29">0.075</text>
<text transform="translate(262.00,284.50) scale(0.82,1)" font-size="8.2" font-weight="bold" text-anchor="middle" fill="#000" stroke="#000" stroke-width="0.30">(Camptothecin) (µmol/L)</text>
<text transform="translate(226.20,214.00) rotate(-90) scale(0.82,1)" font-size="8.0" font-weight="bold" text-anchor="middle" fill="#000" stroke="#000" stroke-width="0.29">% EdU<tspan font-size="5.5" dy="-3">+</tspan><tspan dy="3"> nuclei</tspan></text>
<line x1="350.50" y1="185.73" x2="350.50" y2="192.91" stroke="#2f9e6e" stroke-width="0.8"/>
<line x1="349.00" y1="185.73" x2="352.00" y2="185.73" stroke="#2f9e6e" stroke-width="0.8"/>
<line x1="349.00" y1="192.91" x2="352.00" y2="192.91" stroke="#2f9e6e" stroke-width="0.8"/>
<path d="M350.70 189.32 L362.10 224.93 L373.40 229.96 L384.60 230.87 L396.00 231.53 L407.10 231.66" stroke="#2f9e6e" stroke-width="1.0" fill="none" stroke-dasharray="2.4 1.2"/>
<rect x="348.90" y="187.52" width="3.60" height="3.60" fill="#2f9e6e" stroke="none" stroke-width="0.8"/>
<rect x="360.30" y="223.13" width="3.60" height="3.60" fill="#2f9e6e" stroke="none" stroke-width="0.8"/>
<rect x="371.60" y="228.16" width="3.60" height="3.60" fill="#2f9e6e" stroke="none" stroke-width="0.8"/>
<rect x="382.80" y="229.07" width="3.60" height="3.60" fill="#2f9e6e" stroke="none" stroke-width="0.8"/>
<rect x="394.20" y="229.73" width="3.60" height="3.60" fill="#2f9e6e" stroke="none" stroke-width="0.8"/>
<rect x="405.30" y="229.86" width="3.60" height="3.60" fill="#2f9e6e" stroke="none" stroke-width="0.8"/>
<line x1="407.50" y1="218.33" x2="407.50" y2="223.69" stroke="#000" stroke-width="0.8"/>
<line x1="405.80" y1="218.33" x2="409.20" y2="218.33" stroke="#000" stroke-width="0.8"/>
<line x1="405.80" y1="223.69" x2="409.20" y2="223.69" stroke="#000" stroke-width="0.8"/>
<path d="M350.70 189.65 L362.10 216.43 L373.40 220.94 L384.60 220.94 L396.00 221.07 L407.10 220.94" stroke="#000" stroke-width="1.15" fill="none"/>
<circle cx="362.10" cy="216.43" r="2.05" fill="#000" stroke="none" stroke-width="0.5"/>
<circle cx="373.40" cy="220.94" r="2.05" fill="#000" stroke="none" stroke-width="0.5"/>
<circle cx="384.60" cy="220.94" r="2.05" fill="#000" stroke="none" stroke-width="0.5"/>
<circle cx="396.00" cy="221.07" r="2.05" fill="#000" stroke="none" stroke-width="0.5"/>
<circle cx="407.10" cy="220.94" r="2.05" fill="#000" stroke="none" stroke-width="0.5"/>
<circle cx="350.70" cy="189.65" r="1.90" fill="#1d6e4c" stroke="none" stroke-width="0.5"/>
<line x1="340.50" y1="254.45" x2="340.50" y2="175.15" stroke="#000" stroke-width="0.9"/>
<line x1="338.30" y1="254.00" x2="340.50" y2="254.00" stroke="#000" stroke-width="0.9"/>
<text transform="translate(337.30,255.80) scale(0.85,1)" font-size="5.0" font-weight="bold" text-anchor="end" fill="#000" stroke="#000" stroke-width="0.18">0</text>
<line x1="338.30" y1="240.93" x2="340.50" y2="240.93" stroke="#000" stroke-width="0.9"/>
<text transform="translate(337.30,242.73) scale(0.85,1)" font-size="5.0" font-weight="bold" text-anchor="end" fill="#000" stroke="#000" stroke-width="0.18">20</text>
<line x1="338.30" y1="227.87" x2="340.50" y2="227.87" stroke="#000" stroke-width="0.9"/>
<text transform="translate(337.30,229.67) scale(0.85,1)" font-size="5.0" font-weight="bold" text-anchor="end" fill="#000" stroke="#000" stroke-width="0.18">40</text>
<line x1="338.30" y1="214.80" x2="340.50" y2="214.80" stroke="#000" stroke-width="0.9"/>
<text transform="translate(337.30,216.60) scale(0.85,1)" font-size="5.0" font-weight="bold" text-anchor="end" fill="#000" stroke="#000" stroke-width="0.18">60</text>
<line x1="338.30" y1="201.73" x2="340.50" y2="201.73" stroke="#000" stroke-width="0.9"/>
<text transform="translate(337.30,203.53) scale(0.85,1)" font-size="5.0" font-weight="bold" text-anchor="end" fill="#000" stroke="#000" stroke-width="0.18">80</text>
<line x1="338.30" y1="188.67" x2="340.50" y2="188.67" stroke="#000" stroke-width="0.9"/>
<text transform="translate(337.30,190.47) scale(0.85,1)" font-size="5.0" font-weight="bold" text-anchor="end" fill="#000" stroke="#000" stroke-width="0.18">100</text>
<line x1="338.30" y1="175.60" x2="340.50" y2="175.60" stroke="#000" stroke-width="0.9"/>
<text transform="translate(337.30,177.40) scale(0.85,1)" font-size="5.0" font-weight="bold" text-anchor="end" fill="#000" stroke="#000" stroke-width="0.18">120</text>
<line x1="340.00" y1="254.50" x2="413.80" y2="254.50" stroke="#000" stroke-width="0.9"/>
<line x1="350.70" y1="254.00" x2="350.70" y2="256.40" stroke="#000" stroke-width="0.9"/>
<line x1="362.10" y1="254.00" x2="362.10" y2="256.40" stroke="#000" stroke-width="0.9"/>
<line x1="373.40" y1="254.00" x2="373.40" y2="256.40" stroke="#000" stroke-width="0.9"/>
<line x1="384.60" y1="254.00" x2="384.60" y2="256.40" stroke="#000" stroke-width="0.9"/>
<line x1="396.00" y1="254.00" x2="396.00" y2="256.40" stroke="#000" stroke-width="0.9"/>
<line x1="407.10" y1="254.00" x2="407.10" y2="256.40" stroke="#000" stroke-width="0.9"/>
<text transform="translate(353.10,261.40) rotate(-45) scale(0.82,1)" font-size="8.0" font-weight="bold" text-anchor="end" fill="#000" stroke="#000" stroke-width="0.29">0</text>
<text transform="translate(364.50,261.40) rotate(-45) scale(0.82,1)" font-size="8.0" font-weight="bold" text-anchor="end" fill="#000" stroke="#000" stroke-width="0.29">0.005</text>
<text transform="translate(375.80,261.40) rotate(-45) scale(0.82,1)" font-size="8.0" font-weight="bold" text-anchor="end" fill="#000" stroke="#000" stroke-width="0.29">0.015</text>
<text transform="translate(387.00,261.40) rotate(-45) scale(0.82,1)" font-size="8.0" font-weight="bold" text-anchor="end" fill="#000" stroke="#000" stroke-width="0.29">0.045</text>
<text transform="translate(398.40,261.40) rotate(-45) scale(0.82,1)" font-size="8.0" font-weight="bold" text-anchor="end" fill="#000" stroke="#000" stroke-width="0.29">0.135</text>
<text transform="translate(409.50,261.40) rotate(-45) scale(0.82,1)" font-size="8.0" font-weight="bold" text-anchor="end" fill="#000" stroke="#000" stroke-width="0.29">1.5</text>
<text transform="translate(353.60,174.80) scale(0.9,1)" font-size="7.8" font-weight="normal" text-anchor="start" fill="#2e2e2e" stroke="#2e2e2e" stroke-width="0.45">RPMI8226</text>
<line x1="374.40" y1="180.00" x2="384.20" y2="180.00" stroke="#000" stroke-width="1.1"/>
<circle cx="379.30" cy="180.00" r="2.05" fill="#000" stroke="none" stroke-width="0.5"/>
<text transform="translate(386.60,182.80) scale(0.82,1)" font-size="8.2" font-weight="bold" text-anchor="start" fill="#000" stroke="#000" stroke-width="0.30">WT</text>
<line x1="374.40" y1="188.80" x2="384.20" y2="188.80" stroke="#2f9e6e" stroke-width="1.0" stroke-dasharray="2.4 1.2"/>
<rect x="377.50" y="187.00" width="3.60" height="3.60" fill="#2f9e6e" stroke="none" stroke-width="0.8"/>
<text transform="translate(386.60,191.60) scale(0.82,1)" font-size="8.2" font-weight="bold" text-anchor="start" fill="#000" stroke="#000" stroke-width="0.30">DexR</text>
<text transform="translate(378.40,285.20) scale(0.82,1)" font-size="8.05" font-weight="bold" text-anchor="middle" fill="#000" stroke="#000" stroke-width="0.29">(Camptothecin) (µmol/L)</text>
<text transform="translate(328.40,214.20) rotate(-90) scale(0.82,1)" font-size="8.4" font-weight="bold" text-anchor="middle" fill="#000" stroke="#000" stroke-width="0.30">% viability (MTT)</text>
<rect x="469.20" y="178.60" width="15.70" height="15.60" fill="#2389e4" stroke="none" stroke-width="0.8"/>
<rect x="484.70" y="178.60" width="15.50" height="15.60" fill="#e6f0fa" stroke="none" stroke-width="0.8"/>
<line x1="475.75" y1="186.30" x2="478.15" y2="186.30" stroke="#444" stroke-width="0.7" opacity="0.55"/>
<line x1="491.25" y1="186.30" x2="493.65" y2="186.30" stroke="#444" stroke-width="0.7" opacity="0.55"/>
<rect x="469.20" y="194.00" width="15.70" height="15.80" fill="#5aa7ec" stroke="none" stroke-width="0.8"/>
<rect x="484.70" y="194.00" width="15.50" height="15.80" fill="#fcfcfc" stroke="none" stroke-width="0.8"/>
<line x1="475.75" y1="201.80" x2="478.15" y2="201.80" stroke="#444" stroke-width="0.7" opacity="0.55"/>
<line x1="491.25" y1="201.80" x2="493.65" y2="201.80" stroke="#444" stroke-width="0.7" opacity="0.55"/>
<rect x="469.20" y="209.60" width="15.70" height="15.20" fill="#f1c6c2" stroke="none" stroke-width="0.8"/>
<rect x="484.70" y="209.60" width="15.50" height="15.20" fill="#e9aaa6" stroke="none" stroke-width="0.8"/>
<line x1="475.75" y1="217.10" x2="478.15" y2="217.10" stroke="#444" stroke-width="0.7" opacity="0.55"/>
<line x1="491.25" y1="217.10" x2="493.65" y2="217.10" stroke="#444" stroke-width="0.7" opacity="0.55"/>
<rect x="469.20" y="224.60" width="15.70" height="15.60" fill="#f2cbc7" stroke="none" stroke-width="0.8"/>
<rect x="484.70" y="224.60" width="15.50" height="15.60" fill="#e9a9a5" stroke="none" stroke-width="0.8"/>
<line x1="475.75" y1="232.30" x2="478.15" y2="232.30" stroke="#444" stroke-width="0.7" opacity="0.55"/>
<line x1="491.25" y1="232.30" x2="493.65" y2="232.30" stroke="#444" stroke-width="0.7" opacity="0.55"/>
<rect x="469.20" y="240.00" width="15.70" height="15.80" fill="#d2382a" stroke="none" stroke-width="0.8"/>
<rect x="484.70" y="240.00" width="15.50" height="15.80" fill="#cb2a1c" stroke="none" stroke-width="0.8"/>
<line x1="475.75" y1="247.80" x2="478.15" y2="247.80" stroke="#444" stroke-width="0.7" opacity="0.55"/>
<line x1="491.25" y1="247.80" x2="493.65" y2="247.80" stroke="#444" stroke-width="0.7" opacity="0.55"/>
<rect x="469.20" y="178.60" width="31.00" height="77.00" fill="none" stroke="#9a9a9a" stroke-width="0.4"/>
<rect x="503.40" y="178.60" width="6.00" height="77.00" fill="url(#cbar)" stroke="#555" stroke-width="0.4"/>
<line x1="509.40" y1="179.60" x2="511.20" y2="179.60" stroke="#222" stroke-width="0.5"/>
<text transform="translate(512.00,181.30) scale(0.85,1)" font-size="4.6" font-weight="bold" text-anchor="start" fill="#000" stroke="#000" stroke-width="0.17">100</text>
<line x1="509.40" y1="196.20" x2="511.20" y2="196.20" stroke="#222" stroke-width="0.5"/>
<text transform="translate(512.00,197.90) scale(0.85,1)" font-size="4.6" font-weight="bold" text-anchor="start" fill="#000" stroke="#000" stroke-width="0.17">80</text>
<line x1="509.40" y1="213.00" x2="511.20" y2="213.00" stroke="#222" stroke-width="0.5"/>
<text transform="translate(512.00,214.70) scale(0.85,1)" font-size="4.6" font-weight="bold" text-anchor="start" fill="#000" stroke="#000" stroke-width="0.17">60</text>
<line x1="509.40" y1="229.60" x2="511.20" y2="229.60" stroke="#222" stroke-width="0.5"/>
<text transform="translate(512.00,231.30) scale(0.85,1)" font-size="4.6" font-weight="bold" text-anchor="start" fill="#000" stroke="#000" stroke-width="0.17">40</text>
<line x1="509.40" y1="246.40" x2="511.20" y2="246.40" stroke="#222" stroke-width="0.5"/>
<text transform="translate(512.00,248.10) scale(0.85,1)" font-size="4.6" font-weight="bold" text-anchor="start" fill="#000" stroke="#000" stroke-width="0.17">20</text>
<text transform="translate(466.40,188.80) scale(0.82,1)" font-size="7.6" font-weight="bold" text-anchor="end" fill="#000" stroke="#000" stroke-width="0.27">-</text>
<text transform="translate(466.40,204.40) scale(0.82,1)" font-size="7.6" font-weight="bold" text-anchor="end" fill="#000" stroke="#000" stroke-width="0.27">0.003</text>
<text transform="translate(466.40,220.20) scale(0.82,1)" font-size="7.6" font-weight="bold" text-anchor="end" fill="#000" stroke="#000" stroke-width="0.27">0.015</text>
<text transform="translate(466.40,236.00) scale(0.82,1)" font-size="7.6" font-weight="bold" text-anchor="end" fill="#000" stroke="#000" stroke-width="0.27">0.03</text>
<text transform="translate(466.40,252.40) scale(0.82,1)" font-size="7.6" font-weight="bold" text-anchor="end" fill="#000" stroke="#000" stroke-width="0.27">0.3</text>
<text transform="translate(447.20,213.20) rotate(-90) scale(0.82,1)" font-size="8.6" font-weight="bold" text-anchor="middle" fill="#000" stroke="#000" stroke-width="0.31">Camptothecin (µmol/L)</text>
<text transform="translate(479.40,260.00) rotate(-46) scale(0.74,1)" font-size="8.3" font-weight="bold" text-anchor="end" fill="#000" stroke="#000" stroke-width="0.30">Vehicle</text>
<text transform="translate(499.20,260.00) rotate(-46) scale(0.74,1)" font-size="8.3" font-weight="bold" text-anchor="end" fill="#000" stroke="#000" stroke-width="0.30">Mel 25 µmol/L</text>
<text transform="translate(476.00,172.20) scale(0.9,1)" font-size="8.2" font-weight="normal" text-anchor="start" fill="#2e2e2e" stroke="#2e2e2e" stroke-width="0.45">RPMI8226</text>
<text transform="translate(0.60,315.40)" font-size="12.3" font-weight="bold" text-anchor="start" fill="#000" stroke="#000" stroke-width="0.44">I</text>
<text transform="translate(138.40,316.40)" font-size="12.3" font-weight="bold" text-anchor="start" fill="#000" stroke="#000" stroke-width="0.44">J</text>
<text transform="translate(271.40,316.40)" font-size="12.3" font-weight="bold" text-anchor="start" fill="#000" stroke="#000" stroke-width="0.44">K</text>
<text transform="translate(427.80,315.60)" font-size="12.3" font-weight="bold" text-anchor="start" fill="#000" stroke="#000" stroke-width="0.44">L</text>
<line x1="12.50" y1="408.40" x2="12.50" y2="330.00" stroke="#111" stroke-width="0.9"/>
<path d="M10.40 331.20 L12.50 327.20 L14.60 331.20 Z" stroke="#111" stroke-width="0.2" fill="#111"/>
<line x1="12.10" y1="408.00" x2="107.50" y2="408.00" stroke="#111" stroke-width="0.9"/>
<path d="M107.00 405.90 L111.20 408.00 L107.00 410.10 Z" stroke="#111" stroke-width="0.2" fill="#111"/>
<text transform="translate(9.40,369.20) rotate(-90) scale(0.86,1)" font-size="8.2" font-weight="bold" text-anchor="middle" fill="#000" stroke="#000" stroke-width="0.30" font-style="italic">ITGB1</text>
<text transform="translate(61.60,417.40) scale(0.86,1)" font-size="8.2" font-weight="bold" text-anchor="middle" fill="#000" stroke="#000" stroke-width="0.30" font-style="italic">ITGA4</text>
<rect x="17.00" y="337.00" width="20.00" height="15.00" fill="#fff" stroke="#d6d6d6" stroke-width="0.5"/>
<rect x="37.00" y="337.00" width="19.20" height="15.00" fill="#fff" stroke="#d6d6d6" stroke-width="0.5"/>
<text transform="translate(46.60,346.40) scale(0.8,1)" font-size="9.2" font-weight="bold" text-anchor="middle" fill="#111" stroke="#111" stroke-width="0.33">Low</text>
<rect x="56.20" y="337.00" width="19.00" height="15.00" fill="#fff" stroke="#d6d6d6" stroke-width="0.5"/>
<text transform="translate(65.70,346.40) scale(0.8,1)" font-size="9.2" font-weight="bold" text-anchor="middle" fill="#111" stroke="#111" stroke-width="0.33">Med</text>
<rect x="75.20" y="337.00" width="19.80" height="15.00" fill="#fff" stroke="#d6d6d6" stroke-width="0.5"/>
<text transform="translate(85.10,346.40) scale(0.8,1)" font-size="9.2" font-weight="bold" text-anchor="middle" fill="#111" stroke="#111" stroke-width="0.33">High</text>
<rect x="17.00" y="352.00" width="20.00" height="15.00" fill="#fff" stroke="#d6d6d6" stroke-width="0.5"/>
<text transform="translate(27.00,361.40) scale(0.8,1)" font-size="9.2" font-weight="bold" text-anchor="middle" fill="#111" stroke="#111" stroke-width="0.33">Low</text>
<rect x="36.90" y="351.90" width="19.40" height="15.20" fill="#7fd3f4" stroke="none" stroke-width="0.8"/>
<text transform="translate(46.60,361.40) scale(0.8,1)" font-size="9.2" font-weight="bold" text-anchor="middle" fill="#0b2a20" stroke="#0b2a20" stroke-width="0.33">14</text>
<rect x="56.10" y="351.90" width="19.20" height="15.20" fill="#12996b" stroke="none" stroke-width="0.8"/>
<text transform="translate(65.70,361.40) scale(0.8,1)" font-size="9.2" font-weight="bold" text-anchor="middle" fill="#0b2a20" stroke="#0b2a20" stroke-width="0.33">119</text>
<rect x="75.10" y="351.90" width="20.00" height="15.20" fill="#12996b" stroke="none" stroke-width="0.8"/>
<text transform="translate(85.10,361.40) scale(0.8,1)" font-size="9.2" font-weight="bold" text-anchor="middle" fill="#0b2a20" stroke="#0b2a20" stroke-width="0.33">13</text>
<rect x="17.00" y="367.00" width="20.00" height="14.40" fill="#fff" stroke="#d6d6d6" stroke-width="0.5"/>
<text transform="translate(27.00,376.10) scale(0.8,1)" font-size="9.2" font-weight="bold" text-anchor="middle" fill="#111" stroke="#111" stroke-width="0.33">Med</text>
<rect x="36.90" y="366.90" width="19.40" height="14.60" fill="#12996b" stroke="none" stroke-width="0.8"/>
<text transform="translate(46.60,376.10) scale(0.8,1)" font-size="9.2" font-weight="bold" text-anchor="middle" fill="#0b2a20" stroke="#0b2a20" stroke-width="0.33">108</text>
<rect x="56.10" y="366.90" width="19.20" height="14.60" fill="#12996b" stroke="none" stroke-width="0.8"/>
<text transform="translate(65.70,376.10) scale(0.8,1)" font-size="9.2" font-weight="bold" text-anchor="middle" fill="#0b2a20" stroke="#0b2a20" stroke-width="0.33">426</text>
<rect x="75.10" y="366.90" width="20.00" height="14.60" fill="#fdfb6c" stroke="none" stroke-width="0.8"/>
<text transform="translate(85.10,376.10) scale(0.8,1)" font-size="9.2" font-weight="bold" text-anchor="middle" fill="#0b2a20" stroke="#0b2a20" stroke-width="0.33">74</text>
<rect x="17.00" y="381.40" width="20.00" height="15.60" fill="#fff" stroke="#d6d6d6" stroke-width="0.5"/>
<text transform="translate(27.00,391.10) scale(0.8,1)" font-size="9.2" font-weight="bold" text-anchor="middle" fill="#111" stroke="#111" stroke-width="0.33">High</text>
<rect x="36.90" y="381.30" width="19.40" height="15.80" fill="#12996b" stroke="none" stroke-width="0.8"/>
<text transform="translate(46.60,391.10) scale(0.8,1)" font-size="9.2" font-weight="bold" text-anchor="middle" fill="#0b2a20" stroke="#0b2a20" stroke-width="0.33">16</text>
<rect x="56.10" y="381.30" width="19.20" height="15.80" fill="#fdfb6c" stroke="none" stroke-width="0.8"/>
<text transform="translate(65.70,391.10) scale(0.8,1)" font-size="9.2" font-weight="bold" text-anchor="middle" fill="#0b2a20" stroke="#0b2a20" stroke-width="0.33">85</text>
<rect x="75.10" y="381.30" width="20.00" height="15.80" fill="#e87cb7" stroke="none" stroke-width="0.8"/>
<text transform="translate(85.10,391.10) scale(0.8,1)" font-size="9.2" font-weight="bold" text-anchor="middle" fill="#0b2a20" stroke="#0b2a20" stroke-width="0.33">35</text>
<line x1="155.50" y1="408.25" x2="155.50" y2="328.15" stroke="#000" stroke-width="0.9"/>
<line x1="153.10" y1="407.80" x2="155.50" y2="407.80" stroke="#000" stroke-width="0.9"/>
<text transform="translate(152.10,410.10) scale(0.85,1)" font-size="6.4" font-weight="bold" text-anchor="end" fill="#000" stroke="#000" stroke-width="0.23">0</text>
<line x1="153.10" y1="381.40" x2="155.50" y2="381.40" stroke="#000" stroke-width="0.9"/>
<text transform="translate(152.10,383.70) scale(0.85,1)" font-size="6.4" font-weight="bold" text-anchor="end" fill="#000" stroke="#000" stroke-width="0.23">2</text>
<line x1="153.10" y1="355.00" x2="155.50" y2="355.00" stroke="#000" stroke-width="0.9"/>
<text transform="translate(152.10,357.30) scale(0.85,1)" font-size="6.4" font-weight="bold" text-anchor="end" fill="#000" stroke="#000" stroke-width="0.23">4</text>
<line x1="153.10" y1="328.60" x2="155.50" y2="328.60" stroke="#000" stroke-width="0.9"/>
<text transform="translate(152.10,330.90) scale(0.85,1)" font-size="6.4" font-weight="bold" text-anchor="end" fill="#000" stroke="#000" stroke-width="0.23">6</text>
<line x1="155.00" y1="407.50" x2="245.00" y2="407.50" stroke="#000" stroke-width="0.9"/>
<line x1="168.95" y1="364.60" x2="168.95" y2="371.50" stroke="#000" stroke-width="1.0"/>
<line x1="168.95" y1="381.90" x2="168.95" y2="383.10" stroke="#000" stroke-width="1.0"/>
<line x1="165.35" y1="364.60" x2="172.55" y2="364.60" stroke="#000" stroke-width="1.0"/>
<line x1="165.35" y1="383.10" x2="172.55" y2="383.10" stroke="#000" stroke-width="1.0"/>
<rect x="161.90" y="371.50" width="14.10" height="10.40" fill="#5bc8f5" stroke="#111" stroke-width="0.95"/>
<line x1="161.90" y1="376.70" x2="176.00" y2="376.70" stroke="#111" stroke-width="1.0"/>
<line x1="168.95" y1="407.80" x2="168.95" y2="410.20" stroke="#000" stroke-width="0.9"/>
<line x1="189.90" y1="349.20" x2="189.90" y2="366.70" stroke="#000" stroke-width="1.0"/>
<line x1="189.90" y1="375.20" x2="189.90" y2="388.70" stroke="#000" stroke-width="1.0"/>
<line x1="186.30" y1="349.20" x2="193.50" y2="349.20" stroke="#000" stroke-width="1.0"/>
<line x1="186.30" y1="388.70" x2="193.50" y2="388.70" stroke="#000" stroke-width="1.0"/>
<rect x="182.70" y="366.70" width="14.40" height="8.50" fill="#17976a" stroke="#111" stroke-width="0.95"/>
<line x1="182.70" y1="371.00" x2="197.10" y2="371.00" stroke="#111" stroke-width="1.0"/>
<line x1="189.90" y1="407.80" x2="189.90" y2="410.20" stroke="#000" stroke-width="0.9"/>
<line x1="211.05" y1="352.70" x2="211.05" y2="362.70" stroke="#000" stroke-width="1.0"/>
<line x1="211.05" y1="370.60" x2="211.05" y2="381.90" stroke="#000" stroke-width="1.0"/>
<line x1="207.45" y1="352.70" x2="214.65" y2="352.70" stroke="#000" stroke-width="1.0"/>
<line x1="207.45" y1="381.90" x2="214.65" y2="381.90" stroke="#000" stroke-width="1.0"/>
<rect x="203.80" y="362.70" width="14.50" height="7.90" fill="#fdf35e" stroke="#111" stroke-width="0.95"/>
<line x1="203.80" y1="366.70" x2="218.30" y2="366.70" stroke="#111" stroke-width="1.0"/>
<line x1="211.05" y1="407.80" x2="211.05" y2="410.20" stroke="#000" stroke-width="0.9"/>
<line x1="232.10" y1="351.30" x2="232.10" y2="357.10" stroke="#000" stroke-width="1.0"/>
<line x1="232.10" y1="367.10" x2="232.10" y2="375.80" stroke="#000" stroke-width="1.0"/>
<line x1="228.50" y1="351.30" x2="235.70" y2="351.30" stroke="#000" stroke-width="1.0"/>
<line x1="228.50" y1="375.80" x2="235.70" y2="375.80" stroke="#000" stroke-width="1.0"/>
<rect x="225.00" y="357.10" width="14.20" height="10.00" fill="#ee7db6" stroke="#111" stroke-width="0.95"/>
<line x1="225.00" y1="363.30" x2="239.20" y2="363.30" stroke="#111" stroke-width="1.0"/>
<line x1="232.10" y1="407.80" x2="232.10" y2="410.20" stroke="#000" stroke-width="0.9"/>
<path d="M166.30 361.60 V330.60 H233.00 V348.00" stroke="#1c1c1c" stroke-width="0.7" fill="none"/>
<path d="M167.60 361.60 V339.20 H188.50 V346.60" stroke="#1c1c1c" stroke-width="0.7" fill="none"/>
<path d="M168.90 361.60 V344.60 H187.50 V346.60" stroke="#1c1c1c" stroke-width="0.7" fill="none"/>
<path d="M189.50 346.60 V337.00 H231.80 V348.00" stroke="#1c1c1c" stroke-width="0.7" fill="none"/>
<path d="M190.50 346.60 V339.40 H211.00 V350.00" stroke="#1c1c1c" stroke-width="0.7" fill="none"/>
<path d="M191.60 346.60 V344.20 H209.00 V350.00" stroke="#1c1c1c" stroke-width="0.7" fill="none"/>
<path d="M212.00 350.00 V344.60 H230.60 V348.00" stroke="#1c1c1c" stroke-width="0.7" fill="none"/>
<text transform="translate(198.40,330.80) scale(0.8,1)" font-size="7.0" font-weight="bold" text-anchor="middle" fill="#000" stroke="#000" stroke-width="0.25">***</text>
<text transform="translate(181.00,339.40) scale(0.8,1)" font-size="7.0" font-weight="bold" text-anchor="middle" fill="#000" stroke="#000" stroke-width="0.25">***</text>
<text transform="translate(178.60,344.80) scale(0.8,1)" font-size="7.0" font-weight="bold" text-anchor="middle" fill="#000" stroke="#000" stroke-width="0.25">***</text>
<text transform="translate(212.60,337.20) scale(0.8,1)" font-size="7.0" font-weight="bold" text-anchor="middle" fill="#000" stroke="#000" stroke-width="0.25">***</text>
<text transform="translate(199.40,344.60) scale(0.8,1)" font-size="7.0" font-weight="bold" text-anchor="middle" fill="#000" stroke="#000" stroke-width="0.25">**</text>
<text transform="translate(221.60,344.80) scale(0.8,1)" font-size="7.0" font-weight="bold" text-anchor="middle" fill="#000" stroke="#000" stroke-width="0.25">**</text>
<text transform="translate(172.60,415.40) rotate(-45) scale(0.82,1)" font-size="8.6" font-weight="bold" text-anchor="end" fill="#000" stroke="#000" stroke-width="0.31">Low-low (14)</text>
<text transform="translate(193.50,415.40) rotate(-45) scale(0.82,1)" font-size="8.6" font-weight="bold" text-anchor="end" fill="#000" stroke="#000" stroke-width="0.31">Others (med) (683)</text>
<text transform="translate(214.60,415.40) rotate(-45) scale(0.82,1)" font-size="8.6" font-weight="bold" text-anchor="end" fill="#000" stroke="#000" stroke-width="0.31">Med-high (159)</text>
<text transform="translate(235.70,415.40) rotate(-45) scale(0.82,1)" font-size="8.6" font-weight="bold" text-anchor="end" fill="#000" stroke="#000" stroke-width="0.31">High-high (35)</text>
<text transform="translate(143.60,367.40) rotate(-90) scale(0.82,1)" font-size="7.2" font-weight="bold" text-anchor="middle" fill="#000" stroke="#000" stroke-width="0.26"><tspan font-style="italic">TOP1</tspan> mRNA (TPM)</text>
<line x1="304.50" y1="388.63" x2="304.50" y2="399.87" stroke="#1a1a1a" stroke-width="0.85"/>
<line x1="302.50" y1="388.63" x2="306.50" y2="388.63" stroke="#1a1a1a" stroke-width="0.85"/>
<rect x="300.80" y="399.87" width="7.00" height="7.13" fill="#9a9a9a" stroke="#111" stroke-width="0.8"/>
<line x1="313.50" y1="343.32" x2="313.50" y2="358.85" stroke="#1a1a1a" stroke-width="0.85"/>
<line x1="311.50" y1="343.32" x2="315.50" y2="343.32" stroke="#1a1a1a" stroke-width="0.85"/>
<rect x="310.40" y="358.85" width="7.00" height="48.15" fill="#1c8782" stroke="#111" stroke-width="0.8"/>
<line x1="327.50" y1="383.24" x2="327.50" y2="402.88" stroke="#1a1a1a" stroke-width="0.85"/>
<line x1="325.50" y1="383.24" x2="329.50" y2="383.24" stroke="#1a1a1a" stroke-width="0.85"/>
<rect x="323.70" y="402.88" width="7.00" height="4.12" fill="#9a9a9a" stroke="#111" stroke-width="0.8"/>
<line x1="336.50" y1="352.19" x2="336.50" y2="369.30" stroke="#1a1a1a" stroke-width="0.85"/>
<line x1="334.50" y1="352.19" x2="338.50" y2="352.19" stroke="#1a1a1a" stroke-width="0.85"/>
<rect x="333.20" y="369.30" width="7.00" height="37.70" fill="#1c8782" stroke="#111" stroke-width="0.8"/>
<line x1="350.50" y1="382.61" x2="350.50" y2="393.06" stroke="#1a1a1a" stroke-width="0.85"/>
<line x1="348.50" y1="382.61" x2="352.50" y2="382.61" stroke="#1a1a1a" stroke-width="0.85"/>
<rect x="346.60" y="393.06" width="7.00" height="13.94" fill="#9a9a9a" stroke="#111" stroke-width="0.8"/>
<line x1="359.50" y1="351.24" x2="359.50" y2="364.23" stroke="#1a1a1a" stroke-width="0.85"/>
<line x1="357.50" y1="351.24" x2="361.50" y2="351.24" stroke="#1a1a1a" stroke-width="0.85"/>
<rect x="356.00" y="364.23" width="7.00" height="42.77" fill="#1c8782" stroke="#111" stroke-width="0.8"/>
<line x1="373.50" y1="382.61" x2="373.50" y2="398.29" stroke="#1a1a1a" stroke-width="0.85"/>
<line x1="371.50" y1="382.61" x2="375.50" y2="382.61" stroke="#1a1a1a" stroke-width="0.85"/>
<rect x="369.60" y="398.29" width="7.00" height="8.71" fill="#9a9a9a" stroke="#111" stroke-width="0.8"/>
<line x1="382.50" y1="342.06" x2="382.50" y2="352.19" stroke="#1a1a1a" stroke-width="0.85"/>
<line x1="380.50" y1="342.06" x2="384.50" y2="342.06" stroke="#1a1a1a" stroke-width="0.85"/>
<rect x="379.20" y="352.19" width="7.00" height="54.81" fill="#1c8782" stroke="#111" stroke-width="0.8"/>
<line x1="296.50" y1="407.45" x2="296.50" y2="327.35" stroke="#000" stroke-width="0.9"/>
<line x1="294.10" y1="407.00" x2="296.50" y2="407.00" stroke="#000" stroke-width="0.9"/>
<text transform="translate(293.10,409.12) scale(0.85,1)" font-size="5.9" font-weight="bold" text-anchor="end" fill="#000" stroke="#000" stroke-width="0.21">0</text>
<line x1="294.10" y1="391.16" x2="296.50" y2="391.16" stroke="#000" stroke-width="0.9"/>
<text transform="translate(293.10,393.28) scale(0.85,1)" font-size="5.9" font-weight="bold" text-anchor="end" fill="#000" stroke="#000" stroke-width="0.21">10</text>
<line x1="294.10" y1="375.32" x2="296.50" y2="375.32" stroke="#000" stroke-width="0.9"/>
<text transform="translate(293.10,377.44) scale(0.85,1)" font-size="5.9" font-weight="bold" text-anchor="end" fill="#000" stroke="#000" stroke-width="0.21">20</text>
<line x1="294.10" y1="359.48" x2="296.50" y2="359.48" stroke="#000" stroke-width="0.9"/>
<text transform="translate(293.10,361.60) scale(0.85,1)" font-size="5.9" font-weight="bold" text-anchor="end" fill="#000" stroke="#000" stroke-width="0.21">30</text>
<line x1="294.10" y1="343.64" x2="296.50" y2="343.64" stroke="#000" stroke-width="0.9"/>
<text transform="translate(293.10,345.76) scale(0.85,1)" font-size="5.9" font-weight="bold" text-anchor="end" fill="#000" stroke="#000" stroke-width="0.21">40</text>
<line x1="294.10" y1="327.80" x2="296.50" y2="327.80" stroke="#000" stroke-width="0.9"/>
<text transform="translate(293.10,329.92) scale(0.85,1)" font-size="5.9" font-weight="bold" text-anchor="end" fill="#000" stroke="#000" stroke-width="0.21">50</text>
<line x1="296.00" y1="407.50" x2="387.40" y2="407.50" stroke="#000" stroke-width="0.9"/>
<line x1="309.00" y1="407.00" x2="309.00" y2="409.40" stroke="#000" stroke-width="0.9"/>
<line x1="331.90" y1="407.00" x2="331.90" y2="409.40" stroke="#000" stroke-width="0.9"/>
<line x1="354.80" y1="407.00" x2="354.80" y2="409.40" stroke="#000" stroke-width="0.9"/>
<line x1="377.80" y1="407.00" x2="377.80" y2="409.40" stroke="#000" stroke-width="0.9"/>
<line x1="305.60" y1="341.00" x2="314.40" y2="341.00" stroke="#111" stroke-width="0.8"/>
<text transform="translate(310.00,341.40) scale(0.8,1)" font-size="6.8" font-weight="bold" text-anchor="middle" fill="#000" stroke="#000" stroke-width="0.24">***</text>
<line x1="327.20" y1="349.90" x2="336.00" y2="349.90" stroke="#111" stroke-width="0.8"/>
<text transform="translate(331.60,350.30) scale(0.8,1)" font-size="6.8" font-weight="bold" text-anchor="middle" fill="#000" stroke="#000" stroke-width="0.24">**</text>
<line x1="349.90" y1="349.40" x2="358.90" y2="349.40" stroke="#111" stroke-width="0.8"/>
<text transform="translate(354.40,349.80) scale(0.8,1)" font-size="6.8" font-weight="bold" text-anchor="middle" fill="#000" stroke="#000" stroke-width="0.24">*</text>
<line x1="372.20" y1="340.40" x2="383.00" y2="340.40" stroke="#111" stroke-width="0.8"/>
<text transform="translate(377.60,340.80) scale(0.8,1)" font-size="6.8" font-weight="bold" text-anchor="middle" fill="#000" stroke="#000" stroke-width="0.24">****</text>
<rect x="301.40" y="321.80" width="7.40" height="7.20" fill="#9a9a9a" stroke="#111" stroke-width="0.8"/>
<rect x="344.20" y="321.80" width="8.20" height="7.20" fill="#1c8782" stroke="#111" stroke-width="0.8"/>
<text transform="translate(312.80,329.20) scale(0.82,1)" font-size="8.2" font-weight="bold" text-anchor="start" fill="#000" stroke="#000" stroke-width="0.30">α<tspan font-size="4.6" dy="1.6">v</tspan><tspan dy="-1.6">β</tspan><tspan font-size="4.6" dy="1.6">3</tspan><tspan dy="-1.6">-DiI</tspan></text>
<text transform="translate(356.80,329.20) scale(0.82,1)" font-size="7.9" font-weight="bold" text-anchor="start" fill="#000" stroke="#000" stroke-width="0.28">VLA4-DiI</text>
<text transform="translate(310.20,415.80) rotate(-45) scale(0.82,1)" font-size="8.1" font-weight="bold" text-anchor="end" fill="#000" stroke="#000" stroke-width="0.29">OPM2</text>
<text transform="translate(333.10,415.80) rotate(-45) scale(0.82,1)" font-size="8.1" font-weight="bold" text-anchor="end" fill="#000" stroke="#000" stroke-width="0.29">U266</text>
<text transform="translate(356.00,415.80) rotate(-45) scale(0.82,1)" font-size="8.1" font-weight="bold" text-anchor="end" fill="#000" stroke="#000" stroke-width="0.29">MM.1S</text>
<text transform="translate(379.00,415.80) rotate(-45) scale(0.82,1)" font-size="8.1" font-weight="bold" text-anchor="end" fill="#000" stroke="#000" stroke-width="0.29">RPMI8226</text>
<text transform="translate(283.40,367.20) rotate(-90) scale(0.82,1)" font-size="8.3" font-weight="bold" text-anchor="middle" fill="#000" stroke="#000" stroke-width="0.30">% ΔMFI (520/600 nm)</text>
<rect x="409.60" y="342.40" width="54.80" height="50.80" fill="#0a0a0a" stroke="none" stroke-width="0.8"/>
<rect x="465.40" y="342.40" width="54.60" height="50.80" fill="#0a0a0a" stroke="none" stroke-width="0.8"/>
<clipPath id="cl1"><rect x="409.6" y="342.4" width="54.8" height="50.8"/></clipPath><clipPath id="cl2"><rect x="465.4" y="342.4" width="54.6" height="50.8"/></clipPath>
<g clip-path="url(#cl1)">
<circle cx="428.20" cy="350.40" r="1.50" fill="#e02828" opacity="0.55" filter="url(#b1)"/>
<circle cx="431.10" cy="348.80" r="1.30" fill="#e02828" opacity="0.45" filter="url(#b1)"/>
<circle cx="418.70" cy="356.50" r="1.30" fill="#e02828" opacity="0.45" filter="url(#b1)"/>
<circle cx="428.20" cy="357.70" r="1.20" fill="#e02828" opacity="0.4" filter="url(#b1)"/>
<circle cx="459.20" cy="375.40" r="1.50" fill="#e02828" opacity="0.55" filter="url(#b1)"/>
<circle cx="459.90" cy="378.40" r="1.40" fill="#e02828" opacity="0.5" filter="url(#b1)"/>
<circle cx="452.80" cy="363.00" r="1.00" fill="#e02828" opacity="0.4" filter="url(#b1)"/>
<circle cx="425.40" cy="382.40" r="1.10" fill="#e02828" opacity="0.3" filter="url(#b1)"/>
<circle cx="458.00" cy="390.50" r="1.00" fill="#e02828" opacity="0.3" filter="url(#b1)"/>
<circle cx="420.90" cy="345.60" r="2.60" fill="#3cf53c" opacity="0.95" filter="url(#b0)"/>
<circle cx="420.00" cy="350.60" r="2.50" fill="#3cf53c" opacity="0.95" filter="url(#b0)"/>
<circle cx="454.10" cy="345.90" r="2.60" fill="#3cf53c" opacity="0.95" filter="url(#b0)"/>
<circle cx="451.00" cy="351.40" r="2.40" fill="#3cf53c" opacity="0.95" filter="url(#b0)"/>
<circle cx="449.40" cy="362.60" r="2.30" fill="#3cf53c" opacity="0.95" filter="url(#b0)"/>
<circle cx="451.00" cy="366.40" r="2.20" fill="#3cf53c" opacity="0.95" filter="url(#b0)"/>
<circle cx="418.80" cy="375.40" r="2.40" fill="#3cf53c" opacity="0.95" filter="url(#b0)"/>
<circle cx="423.20" cy="377.80" r="2.50" fill="#3cf53c" opacity="0.95" filter="url(#b0)"/>
<circle cx="426.20" cy="375.80" r="2.00" fill="#3cf53c" opacity="0.95" filter="url(#b0)"/>
<circle cx="454.10" cy="385.40" r="2.60" fill="#3cf53c" opacity="0.95" filter="url(#b0)"/>
<circle cx="417.20" cy="390.40" r="2.30" fill="#3cf53c" opacity="0.95" filter="url(#b0)"/>
<circle cx="421.60" cy="391.80" r="1.80" fill="#3cf53c" opacity="0.95" filter="url(#b0)"/>
<circle cx="422.60" cy="372.00" r="1.70" fill="#f04a20" opacity="0.95" filter="url(#b0)"/>
<circle cx="428.90" cy="365.40" r="1.40" fill="#b07a20" opacity="0.8" filter="url(#b0)"/>
<circle cx="453.40" cy="363.40" r="0.90" fill="#c07a20" opacity="0.7" filter="url(#b0)"/>
</g><g clip-path="url(#cl2)">
<circle cx="475.40" cy="351.70" r="3.00" fill="#e02828" opacity="0.85" filter="url(#b1)"/>
<circle cx="469.20" cy="346.60" r="2.40" fill="#e02828" opacity="0.75" filter="url(#b1)"/>
<circle cx="485.80" cy="383.80" r="2.90" fill="#e02828" opacity="0.8" filter="url(#b1)"/>
<circle cx="512.70" cy="388.00" r="3.00" fill="#e02828" opacity="0.8" filter="url(#b1)"/>
<circle cx="506.30" cy="369.40" r="2.20" fill="#e02828" opacity="0.7" filter="url(#b1)"/>
<circle cx="466.50" cy="385.80" r="2.00" fill="#e02828" opacity="0.6" filter="url(#b1)"/>
<circle cx="500.10" cy="348.80" r="1.20" fill="#e02828" opacity="0.45" filter="url(#b1)"/>
</g>
<text transform="translate(434.40,341.60) scale(0.82,1)" font-size="8.6" font-weight="bold" text-anchor="middle" fill="#000" stroke="#000" stroke-width="0.31">V-ND</text>
<text transform="translate(488.20,341.60) scale(0.82,1)" font-size="8.6" font-weight="bold" text-anchor="middle" fill="#000" stroke="#000" stroke-width="0.31">V-CP</text>
<text transform="translate(518.20,352.20) rotate(-90) scale(0.82,1)" font-size="9.2" font-weight="bold" text-anchor="middle" fill="#22dd22" stroke="#22dd22" stroke-width="0.33">EdU</text>
<text transform="translate(518.20,368.60) rotate(-90) scale(0.82,1)" font-size="9.2" font-weight="bold" text-anchor="middle" fill="#e02020" stroke="#e02020" stroke-width="0.33">PI</text>
<text transform="translate(454.60,406.20) scale(0.9,1)" font-size="8.0" font-weight="normal" text-anchor="start" fill="#2e2e2e" stroke="#2e2e2e" stroke-width="0.45">RPMI8226</text>
<text transform="translate(1.20,489.20)" font-size="12.3" font-weight="bold" text-anchor="start" fill="#000" stroke="#000" stroke-width="0.44">M</text>
<text transform="translate(138.80,489.00)" font-size="12.3" font-weight="bold" text-anchor="start" fill="#000" stroke="#000" stroke-width="0.44">N</text>
<text transform="translate(261.40,489.00)" font-size="12.3" font-weight="bold" text-anchor="start" fill="#000" stroke="#000" stroke-width="0.44">O</text>
<text transform="translate(426.80,490.00)" font-size="12.3" font-weight="bold" text-anchor="start" fill="#000" stroke="#000" stroke-width="0.44">P</text>
<line x1="59.50" y1="506.22" x2="59.50" y2="518.29" stroke="#1a1a1a" stroke-width="0.9"/>
<line x1="57.40" y1="506.22" x2="61.60" y2="506.22" stroke="#1a1a1a" stroke-width="0.9"/>
<rect x="54.60" y="518.29" width="8.90" height="56.11" fill="#000" stroke="#111" stroke-width="0.8"/>
<line x1="71.50" y1="551.35" x2="71.50" y2="553.89" stroke="#1a1a1a" stroke-width="0.9"/>
<line x1="69.40" y1="551.35" x2="73.60" y2="551.35" stroke="#1a1a1a" stroke-width="0.9"/>
<rect x="67.30" y="553.89" width="8.90" height="20.51" fill="#bdbdbd" stroke="#111" stroke-width="0.8"/>
<line x1="84.50" y1="561.49" x2="84.50" y2="565.95" stroke="#1a1a1a" stroke-width="0.9"/>
<line x1="82.40" y1="561.49" x2="86.60" y2="561.49" stroke="#1a1a1a" stroke-width="0.9"/>
<rect x="79.40" y="565.95" width="9.40" height="8.45" fill="#8a8a8a" stroke="#111" stroke-width="0.8"/>
<line x1="97.50" y1="568.00" x2="97.50" y2="570.42" stroke="#1a1a1a" stroke-width="0.9"/>
<line x1="95.40" y1="568.00" x2="99.60" y2="568.00" stroke="#1a1a1a" stroke-width="0.9"/>
<rect x="92.60" y="570.42" width="8.90" height="3.98" fill="#fff" stroke="#111" stroke-width="0.8"/>
<line x1="48.50" y1="574.85" x2="48.50" y2="501.55" stroke="#000" stroke-width="0.9"/>
<line x1="46.30" y1="574.40" x2="48.50" y2="574.40" stroke="#000" stroke-width="0.9"/>
<text transform="translate(45.30,576.34) scale(0.85,1)" font-size="5.4" font-weight="bold" text-anchor="end" fill="#000" stroke="#000" stroke-width="0.19">0</text>
<line x1="46.30" y1="562.33" x2="48.50" y2="562.33" stroke="#000" stroke-width="0.9"/>
<text transform="translate(45.30,564.28) scale(0.85,1)" font-size="5.4" font-weight="bold" text-anchor="end" fill="#000" stroke="#000" stroke-width="0.19">20</text>
<line x1="46.30" y1="550.27" x2="48.50" y2="550.27" stroke="#000" stroke-width="0.9"/>
<text transform="translate(45.30,552.21) scale(0.85,1)" font-size="5.4" font-weight="bold" text-anchor="end" fill="#000" stroke="#000" stroke-width="0.19">40</text>
<line x1="46.30" y1="538.20" x2="48.50" y2="538.20" stroke="#000" stroke-width="0.9"/>
<text transform="translate(45.30,540.14) scale(0.85,1)" font-size="5.4" font-weight="bold" text-anchor="end" fill="#000" stroke="#000" stroke-width="0.19">60</text>
<line x1="46.30" y1="526.13" x2="48.50" y2="526.13" stroke="#000" stroke-width="0.9"/>
<text transform="translate(45.30,528.08) scale(0.85,1)" font-size="5.4" font-weight="bold" text-anchor="end" fill="#000" stroke="#000" stroke-width="0.19">80</text>
<line x1="46.30" y1="514.07" x2="48.50" y2="514.07" stroke="#000" stroke-width="0.9"/>
<text transform="translate(45.30,516.01) scale(0.85,1)" font-size="5.4" font-weight="bold" text-anchor="end" fill="#000" stroke="#000" stroke-width="0.19">100</text>
<line x1="46.30" y1="502.00" x2="48.50" y2="502.00" stroke="#000" stroke-width="0.9"/>
<text transform="translate(45.30,503.94) scale(0.85,1)" font-size="5.4" font-weight="bold" text-anchor="end" fill="#000" stroke="#000" stroke-width="0.19">120</text>
<line x1="48.00" y1="574.50" x2="105.40" y2="574.50" stroke="#000" stroke-width="0.9"/>
<line x1="59.05" y1="574.40" x2="59.05" y2="576.60" stroke="#000" stroke-width="0.9"/>
<line x1="71.75" y1="574.40" x2="71.75" y2="576.60" stroke="#000" stroke-width="0.9"/>
<line x1="84.10" y1="574.40" x2="84.10" y2="576.60" stroke="#000" stroke-width="0.9"/>
<line x1="97.05" y1="574.40" x2="97.05" y2="576.60" stroke="#000" stroke-width="0.9"/>
<line x1="69.80" y1="538.20" x2="97.80" y2="538.20" stroke="#222" stroke-width="0.8"/>
<text transform="translate(83.80,539.40)" font-size="10.5" font-weight="bold" text-anchor="middle" fill="#000" stroke="#000" stroke-width="0.38">**</text>
<text transform="translate(73.40,548.60)" font-size="8.6" font-weight="normal" text-anchor="middle" fill="#111" font-style="italic" stroke="#111" stroke-width="0.15">#</text>
<text transform="translate(84.60,561.00)" font-size="8.6" font-weight="normal" text-anchor="middle" fill="#111" font-style="italic" stroke="#111" stroke-width="0.15">#</text>
<text transform="translate(97.20,566.20)" font-size="8.6" font-weight="normal" text-anchor="middle" fill="#111" font-style="italic" stroke="#111" stroke-width="0.15">#</text>
<text transform="translate(66.60,500.40) scale(0.9,1)" font-size="8.0" font-weight="normal" text-anchor="start" fill="#2e2e2e" stroke="#2e2e2e" stroke-width="0.45">MM.1S</text>
<text transform="translate(43.20,587.60) scale(0.82,1)" font-size="8.2" font-weight="bold" text-anchor="middle" fill="#000" stroke="#000" stroke-width="0.30">V-NP</text>
<text transform="translate(59.40,587.60) scale(0.82,1)" font-size="8.2" font-weight="bold" text-anchor="middle" fill="#000" stroke="#000" stroke-width="0.30">ND</text>
<text transform="translate(72.00,587.60) scale(0.82,1)" font-size="8.2" font-weight="bold" text-anchor="middle" fill="#000" stroke="#000" stroke-width="0.30">ND</text>
<text transform="translate(84.50,587.60) scale(0.82,1)" font-size="8.2" font-weight="bold" text-anchor="middle" fill="#000" stroke="#000" stroke-width="0.30">CP</text>
<text transform="translate(97.80,587.60) scale(0.82,1)" font-size="8.2" font-weight="bold" text-anchor="middle" fill="#000" stroke="#000" stroke-width="0.30">CP</text>
<text transform="translate(11.40,599.80) scale(0.82,1)" font-size="8.2" font-weight="bold" text-anchor="start" fill="#000" stroke="#000" stroke-width="0.30">Mel (µmol/L)</text>
<text transform="translate(59.00,600.00) scale(0.82,1)" font-size="8.2" font-weight="bold" text-anchor="middle" fill="#000" stroke="#000" stroke-width="0.30">–</text>
<text transform="translate(72.20,600.00) scale(0.82,1)" font-size="8.2" font-weight="bold" text-anchor="middle" fill="#000" stroke="#000" stroke-width="0.30">2.5</text>
<text transform="translate(85.00,600.00) scale(0.82,1)" font-size="8.2" font-weight="bold" text-anchor="middle" fill="#000" stroke="#000" stroke-width="0.30">–</text>
<text transform="translate(97.80,600.00) scale(0.82,1)" font-size="8.2" font-weight="bold" text-anchor="middle" fill="#000" stroke="#000" stroke-width="0.30">2.5</text>
<text transform="translate(31.40,533.40) rotate(-90)" font-size="7.7" font-weight="normal" text-anchor="middle" fill="#000" stroke="#000" stroke-width="0.28">% Viability (MTT)</text>
<line x1="181.50" y1="509.96" x2="181.50" y2="518.23" stroke="#1a1a1a" stroke-width="0.9"/>
<line x1="179.40" y1="509.96" x2="183.60" y2="509.96" stroke="#1a1a1a" stroke-width="0.9"/>
<rect x="177.00" y="518.23" width="9.60" height="55.77" fill="#000" stroke="#111" stroke-width="0.8"/>
<line x1="195.50" y1="525.46" x2="195.50" y2="532.17" stroke="#1a1a1a" stroke-width="0.9"/>
<line x1="193.40" y1="525.46" x2="197.60" y2="525.46" stroke="#1a1a1a" stroke-width="0.9"/>
<rect x="190.50" y="532.17" width="9.60" height="41.83" fill="#9c9c9c" stroke="#111" stroke-width="0.8"/>
<line x1="209.50" y1="543.32" x2="209.50" y2="549.52" stroke="#1a1a1a" stroke-width="0.9"/>
<line x1="207.40" y1="543.32" x2="211.60" y2="543.32" stroke="#1a1a1a" stroke-width="0.9"/>
<rect x="204.00" y="549.52" width="10.00" height="24.48" fill="#686868" stroke="#111" stroke-width="0.8"/>
<line x1="223.50" y1="547.35" x2="223.50" y2="554.07" stroke="#1a1a1a" stroke-width="0.9"/>
<line x1="221.40" y1="547.35" x2="225.60" y2="547.35" stroke="#1a1a1a" stroke-width="0.9"/>
<rect x="218.00" y="554.07" width="10.00" height="19.93" fill="#cfcfcf" stroke="#111" stroke-width="0.8"/>
<line x1="173.50" y1="574.45" x2="173.50" y2="501.25" stroke="#000" stroke-width="0.9"/>
<line x1="171.30" y1="574.00" x2="173.50" y2="574.00" stroke="#000" stroke-width="0.9"/>
<text transform="translate(170.30,576.02) scale(0.85,1)" font-size="5.6" font-weight="bold" text-anchor="end" fill="#000" stroke="#000" stroke-width="0.20">0</text>
<line x1="171.30" y1="563.67" x2="173.50" y2="563.67" stroke="#000" stroke-width="0.9"/>
<text transform="translate(170.30,565.69) scale(0.85,1)" font-size="5.6" font-weight="bold" text-anchor="end" fill="#000" stroke="#000" stroke-width="0.20">20</text>
<line x1="171.30" y1="553.34" x2="173.50" y2="553.34" stroke="#000" stroke-width="0.9"/>
<text transform="translate(170.30,555.36) scale(0.85,1)" font-size="5.6" font-weight="bold" text-anchor="end" fill="#000" stroke="#000" stroke-width="0.20">40</text>
<line x1="171.30" y1="543.01" x2="173.50" y2="543.01" stroke="#000" stroke-width="0.9"/>
<text transform="translate(170.30,545.03) scale(0.85,1)" font-size="5.6" font-weight="bold" text-anchor="end" fill="#000" stroke="#000" stroke-width="0.20">60</text>
<line x1="171.30" y1="532.69" x2="173.50" y2="532.69" stroke="#000" stroke-width="0.9"/>
<text transform="translate(170.30,534.70) scale(0.85,1)" font-size="5.6" font-weight="bold" text-anchor="end" fill="#000" stroke="#000" stroke-width="0.20">80</text>
<line x1="171.30" y1="522.36" x2="173.50" y2="522.36" stroke="#000" stroke-width="0.9"/>
<text transform="translate(170.30,524.37) scale(0.85,1)" font-size="5.6" font-weight="bold" text-anchor="end" fill="#000" stroke="#000" stroke-width="0.20">100</text>
<line x1="171.30" y1="512.03" x2="173.50" y2="512.03" stroke="#000" stroke-width="0.9"/>
<text transform="translate(170.30,514.04) scale(0.85,1)" font-size="5.6" font-weight="bold" text-anchor="end" fill="#000" stroke="#000" stroke-width="0.20">120</text>
<line x1="171.30" y1="501.70" x2="173.50" y2="501.70" stroke="#000" stroke-width="0.9"/>
<text transform="translate(170.30,503.72) scale(0.85,1)" font-size="5.6" font-weight="bold" text-anchor="end" fill="#000" stroke="#000" stroke-width="0.20">140</text>
<line x1="173.00" y1="574.50" x2="231.60" y2="574.50" stroke="#000" stroke-width="0.9"/>
<line x1="181.80" y1="574.00" x2="181.80" y2="576.20" stroke="#000" stroke-width="0.9"/>
<line x1="195.30" y1="574.00" x2="195.30" y2="576.20" stroke="#000" stroke-width="0.9"/>
<line x1="209.00" y1="574.00" x2="209.00" y2="576.20" stroke="#000" stroke-width="0.9"/>
<line x1="223.00" y1="574.00" x2="223.00" y2="576.20" stroke="#000" stroke-width="0.9"/>
<path d="M195.60 516.40 V509.80 H224.00 V539.40" stroke="#111" stroke-width="0.8" fill="none"/>
<text transform="translate(211.80,509.60) scale(0.8,1)" font-size="7.6" font-weight="bold" text-anchor="middle" fill="#000" stroke="#000" stroke-width="0.27">***</text>
<text transform="translate(195.60,523.40) scale(0.9,1)" font-size="6.4" font-weight="normal" text-anchor="middle" fill="#111" font-style="italic" stroke="#111" stroke-width="0.2">#</text>
<text transform="translate(209.00,540.40) scale(0.9,1)" font-size="6.4" font-weight="normal" text-anchor="middle" fill="#111" font-style="italic" stroke="#111" stroke-width="0.2">#</text>
<text transform="translate(224.00,545.40) scale(0.9,1)" font-size="6.4" font-weight="normal" text-anchor="middle" fill="#111" font-style="italic" stroke="#111" stroke-width="0.2">#</text>
<text transform="translate(181.60,500.60) scale(0.9,1)" font-size="8.0" font-weight="normal" text-anchor="start" fill="#2e2e2e" stroke="#2e2e2e" stroke-width="0.45">RPMI8226</text>
<text transform="translate(168.20,587.80) scale(0.82,1)" font-size="8.2" font-weight="bold" text-anchor="middle" fill="#000" stroke="#000" stroke-width="0.30">V-NP</text>
<text transform="translate(183.20,587.80) scale(0.82,1)" font-size="8.2" font-weight="bold" text-anchor="middle" fill="#000" stroke="#000" stroke-width="0.30">ND</text>
<text transform="translate(195.40,587.80) scale(0.82,1)" font-size="8.2" font-weight="bold" text-anchor="middle" fill="#000" stroke="#000" stroke-width="0.30">ND</text>
<text transform="translate(209.60,587.80) scale(0.82,1)" font-size="8.2" font-weight="bold" text-anchor="middle" fill="#000" stroke="#000" stroke-width="0.30">CP</text>
<text transform="translate(223.40,587.80) scale(0.82,1)" font-size="8.2" font-weight="bold" text-anchor="middle" fill="#000" stroke="#000" stroke-width="0.30">CP</text>
<text transform="translate(132.60,600.40) scale(0.82,1)" font-size="8.2" font-weight="bold" text-anchor="start" fill="#000" stroke="#000" stroke-width="0.30">Dex (µmol/L)</text>
<text transform="translate(182.40,600.40) scale(0.82,1)" font-size="8.2" font-weight="bold" text-anchor="middle" fill="#000" stroke="#000" stroke-width="0.30">-</text>
<text transform="translate(195.60,600.40) scale(0.82,1)" font-size="8.2" font-weight="bold" text-anchor="middle" fill="#000" stroke="#000" stroke-width="0.30">1</text>
<text transform="translate(210.00,600.40) scale(0.82,1)" font-size="8.2" font-weight="bold" text-anchor="middle" fill="#000" stroke="#000" stroke-width="0.30">-</text>
<text transform="translate(222.40,600.40) scale(0.82,1)" font-size="8.2" font-weight="bold" text-anchor="middle" fill="#000" stroke="#000" stroke-width="0.30">1</text>
<text transform="translate(156.40,538.20) rotate(-90) scale(0.82,1)" font-size="7.8" font-weight="bold" text-anchor="middle" fill="#000" stroke="#000" stroke-width="0.28">% viability (MTT)</text>
<rect x="287.30" y="501.20" width="48.60" height="40.40" fill="#0b0b0b" stroke="none" stroke-width="0.8"/>
<rect x="337.20" y="501.20" width="48.60" height="40.40" fill="#0b0b0b" stroke="none" stroke-width="0.8"/>
<rect x="287.30" y="543.00" width="48.60" height="40.40" fill="#0b0b0b" stroke="none" stroke-width="0.8"/>
<rect x="337.20" y="543.00" width="48.60" height="40.40" fill="#0b0b0b" stroke="none" stroke-width="0.8"/>
<circle cx="296.73" cy="502.23" r="1.00" fill="#35f04a" opacity="1.0" filter="url(#b0)"/>
<circle cx="296.73" cy="515.43" r="1.15" fill="#35f04a" opacity="1.0" filter="url(#b0)"/>
<circle cx="310.20" cy="517.31" r="1.15" fill="#35f04a" opacity="1.0" filter="url(#b0)"/>
<circle cx="320.97" cy="522.70" r="1.20" fill="#35f04a" opacity="1.0" filter="url(#b0)"/>
<circle cx="305.62" cy="526.74" r="1.25" fill="#35f04a" opacity="1.0" filter="url(#b0)"/>
<circle cx="296.73" cy="506.00" r="0.55" fill="#c82a2a" opacity="0.6" filter="url(#b0)"/>
<circle cx="333.08" cy="515.43" r="0.55" fill="#c82a2a" opacity="0.6" filter="url(#b0)"/>
<circle cx="333.62" cy="522.16" r="0.55" fill="#c82a2a" opacity="0.6" filter="url(#b0)"/>
<circle cx="299.43" cy="530.78" r="0.55" fill="#c82a2a" opacity="0.6" filter="url(#b0)"/>
<circle cx="316.93" cy="507.89" r="0.55" fill="#c82a2a" opacity="0.6" filter="url(#b0)"/>
<circle cx="342.51" cy="504.66" r="0.85" fill="#58c070" opacity="0.9" filter="url(#b0)"/>
<circle cx="339.81" cy="521.35" r="0.80" fill="#d08030" opacity="0.8" filter="url(#b0)"/>
<circle cx="347.89" cy="513.27" r="0.60" fill="#c82a2a" opacity="0.75" filter="url(#b0)"/>
<circle cx="355.16" cy="518.66" r="0.60" fill="#c82a2a" opacity="0.75" filter="url(#b0)"/>
<circle cx="356.78" cy="509.77" r="0.60" fill="#c82a2a" opacity="0.75" filter="url(#b0)"/>
<circle cx="365.93" cy="526.74" r="0.60" fill="#c82a2a" opacity="0.75" filter="url(#b0)"/>
<circle cx="367.55" cy="530.78" r="0.60" fill="#c82a2a" opacity="0.75" filter="url(#b0)"/>
<circle cx="357.32" cy="532.66" r="0.60" fill="#c82a2a" opacity="0.75" filter="url(#b0)"/>
<circle cx="349.78" cy="530.24" r="0.60" fill="#c82a2a" opacity="0.75" filter="url(#b0)"/>
<circle cx="375.62" cy="526.20" r="0.60" fill="#c82a2a" opacity="0.75" filter="url(#b0)"/>
<circle cx="361.35" cy="514.08" r="0.60" fill="#c82a2a" opacity="0.75" filter="url(#b0)"/>
<circle cx="316.39" cy="547.47" r="0.85" fill="#58c070" opacity="0.9" filter="url(#b0)"/>
<circle cx="314.77" cy="557.16" r="0.85" fill="#58c070" opacity="0.9" filter="url(#b0)"/>
<circle cx="293.23" cy="559.05" r="0.85" fill="#58c070" opacity="0.75" filter="url(#b0)"/>
<circle cx="311.00" cy="571.16" r="0.80" fill="#58c070" opacity="0.7" filter="url(#b0)"/>
<circle cx="331.74" cy="571.16" r="0.85" fill="#58c070" opacity="0.8" filter="url(#b0)"/>
<circle cx="305.62" cy="544.78" r="0.55" fill="#c82a2a" opacity="0.6" filter="url(#b0)"/>
<circle cx="308.85" cy="550.97" r="0.55" fill="#c82a2a" opacity="0.6" filter="url(#b0)"/>
<circle cx="325.54" cy="552.85" r="0.55" fill="#c82a2a" opacity="0.6" filter="url(#b0)"/>
<circle cx="295.39" cy="544.78" r="0.55" fill="#c82a2a" opacity="0.6" filter="url(#b0)"/>
<circle cx="329.04" cy="574.39" r="0.55" fill="#c82a2a" opacity="0.6" filter="url(#b0)"/>
<circle cx="301.31" cy="565.78" r="0.55" fill="#c82a2a" opacity="0.6" filter="url(#b0)"/>
<circle cx="355.16" cy="545.58" r="0.60" fill="#c82a2a" opacity="0.7" filter="url(#b0)"/>
<circle cx="361.35" cy="544.78" r="0.60" fill="#c82a2a" opacity="0.7" filter="url(#b0)"/>
<circle cx="359.47" cy="551.78" r="0.60" fill="#c82a2a" opacity="0.7" filter="url(#b0)"/>
<circle cx="364.05" cy="556.35" r="0.60" fill="#c82a2a" opacity="0.7" filter="url(#b0)"/>
<circle cx="366.74" cy="558.24" r="0.60" fill="#c82a2a" opacity="0.7" filter="url(#b0)"/>
<circle cx="357.85" cy="561.74" r="0.60" fill="#c82a2a" opacity="0.7" filter="url(#b0)"/>
<circle cx="359.47" cy="568.47" r="0.60" fill="#c82a2a" opacity="0.7" filter="url(#b0)"/>
<circle cx="356.78" cy="573.86" r="0.60" fill="#c82a2a" opacity="0.7" filter="url(#b0)"/>
<circle cx="379.39" cy="558.24" r="0.60" fill="#c82a2a" opacity="0.7" filter="url(#b0)"/>
<circle cx="370.78" cy="578.70" r="0.60" fill="#c82a2a" opacity="0.7" filter="url(#b0)"/>
<text transform="translate(314.00,500.40) scale(0.82,1)" font-size="8.8" font-weight="bold" text-anchor="middle" fill="#000" stroke="#000" stroke-width="0.32">V-ND</text>
<text transform="translate(362.00,500.40) scale(0.82,1)" font-size="8.8" font-weight="bold" text-anchor="middle" fill="#000" stroke="#000" stroke-width="0.32">V-CP</text>
<text transform="translate(284.40,520.20) rotate(-90) scale(0.82,1)" font-size="9.1" font-weight="bold" text-anchor="middle" fill="#000" stroke="#000" stroke-width="0.33">Vehicle</text>
<text transform="translate(284.40,562.00) rotate(-90) scale(0.82,1)" font-size="9.1" font-weight="bold" text-anchor="middle" fill="#000" stroke="#000" stroke-width="0.33">Melphalan</text>
<line x1="457.50" y1="526.13" x2="457.50" y2="534.10" stroke="#1a1a1a" stroke-width="0.9"/>
<line x1="455.40" y1="526.13" x2="459.60" y2="526.13" stroke="#1a1a1a" stroke-width="0.9"/>
<rect x="452.00" y="534.10" width="10.00" height="41.40" fill="#d2d2d2" stroke="#111" stroke-width="0.8"/>
<line x1="471.50" y1="565.58" x2="471.50" y2="569.99" stroke="#1a1a1a" stroke-width="0.9"/>
<line x1="469.40" y1="565.58" x2="473.60" y2="565.58" stroke="#1a1a1a" stroke-width="0.9"/>
<rect x="466.00" y="569.99" width="10.00" height="5.51" fill="#555" stroke="#111" stroke-width="0.8"/>
<line x1="485.50" y1="535.20" x2="485.50" y2="538.38" stroke="#1a1a1a" stroke-width="0.9"/>
<line x1="483.40" y1="535.20" x2="487.60" y2="535.20" stroke="#1a1a1a" stroke-width="0.9"/>
<rect x="480.30" y="538.38" width="10.00" height="37.12" fill="#f1f1f1" stroke="#111" stroke-width="0.8"/>
<line x1="499.50" y1="568.15" x2="499.50" y2="570.85" stroke="#1a1a1a" stroke-width="0.9"/>
<line x1="497.40" y1="568.15" x2="501.60" y2="568.15" stroke="#1a1a1a" stroke-width="0.9"/>
<rect x="494.60" y="570.85" width="10.00" height="4.65" fill="#fff" stroke="#111" stroke-width="0.8"/>
<line x1="445.50" y1="575.95" x2="445.50" y2="501.55" stroke="#000" stroke-width="0.9"/>
<line x1="443.30" y1="575.50" x2="445.50" y2="575.50" stroke="#000" stroke-width="0.9"/>
<text transform="translate(442.30,577.62) scale(0.85,1)" font-size="5.9" font-weight="bold" text-anchor="end" fill="#000" stroke="#000" stroke-width="0.21">0</text>
<line x1="443.30" y1="563.25" x2="445.50" y2="563.25" stroke="#000" stroke-width="0.9"/>
<text transform="translate(442.30,565.37) scale(0.85,1)" font-size="5.9" font-weight="bold" text-anchor="end" fill="#000" stroke="#000" stroke-width="0.21">20</text>
<line x1="443.30" y1="551.00" x2="445.50" y2="551.00" stroke="#000" stroke-width="0.9"/>
<text transform="translate(442.30,553.12) scale(0.85,1)" font-size="5.9" font-weight="bold" text-anchor="end" fill="#000" stroke="#000" stroke-width="0.21">40</text>
<line x1="443.30" y1="538.75" x2="445.50" y2="538.75" stroke="#000" stroke-width="0.9"/>
<text transform="translate(442.30,540.87) scale(0.85,1)" font-size="5.9" font-weight="bold" text-anchor="end" fill="#000" stroke="#000" stroke-width="0.21">60</text>
<line x1="443.30" y1="526.50" x2="445.50" y2="526.50" stroke="#000" stroke-width="0.9"/>
<text transform="translate(442.30,528.62) scale(0.85,1)" font-size="5.9" font-weight="bold" text-anchor="end" fill="#000" stroke="#000" stroke-width="0.21">80</text>
<line x1="443.30" y1="514.25" x2="445.50" y2="514.25" stroke="#000" stroke-width="0.9"/>
<text transform="translate(442.30,516.37) scale(0.85,1)" font-size="5.9" font-weight="bold" text-anchor="end" fill="#000" stroke="#000" stroke-width="0.21">100</text>
<line x1="443.30" y1="502.00" x2="445.50" y2="502.00" stroke="#000" stroke-width="0.9"/>
<text transform="translate(442.30,504.12) scale(0.85,1)" font-size="5.9" font-weight="bold" text-anchor="end" fill="#000" stroke="#000" stroke-width="0.21">120</text>
<line x1="445.00" y1="575.50" x2="507.20" y2="575.50" stroke="#000" stroke-width="0.9"/>
<line x1="457.00" y1="575.50" x2="457.00" y2="577.70" stroke="#000" stroke-width="0.9"/>
<line x1="471.00" y1="575.50" x2="471.00" y2="577.70" stroke="#000" stroke-width="0.9"/>
<line x1="485.30" y1="575.50" x2="485.30" y2="577.70" stroke="#000" stroke-width="0.9"/>
<line x1="499.60" y1="575.50" x2="499.60" y2="577.70" stroke="#000" stroke-width="0.9"/>
<circle cx="457.20" cy="524.91" r="1.35" fill="#fff" stroke="#111" stroke-width="0.75"/>
<circle cx="455.00" cy="538.63" r="1.35" fill="#fff" stroke="#111" stroke-width="0.75"/>
<circle cx="459.20" cy="538.38" r="1.35" fill="#fff" stroke="#111" stroke-width="0.75"/>
<circle cx="484.80" cy="535.44" r="1.25" fill="#111" stroke="none" stroke-width="0.5"/>
<circle cx="483.20" cy="539.73" r="1.25" fill="#111" stroke="none" stroke-width="0.5"/>
<circle cx="487.60" cy="539.73" r="1.25" fill="#111" stroke="none" stroke-width="0.5"/>
<circle cx="471.00" cy="566.07" r="1.00" fill="#111" stroke="none" stroke-width="0.5"/>
<circle cx="469.80" cy="572.07" r="1.00" fill="#111" stroke="none" stroke-width="0.5"/>
<circle cx="499.60" cy="568.76" r="1.00" fill="#111" stroke="none" stroke-width="0.5"/>
<circle cx="497.80" cy="572.68" r="1.00" fill="#111" stroke="none" stroke-width="0.5"/>
<circle cx="501.60" cy="572.44" r="1.00" fill="#111" stroke="none" stroke-width="0.5"/>
<path d="M456.40 528.00 V515.00 H485.00 V533.00" stroke="#222" stroke-width="0.75" fill="none"/>
<path d="M457.80 528.00 V521.40 H470.60 V565.40" stroke="#222" stroke-width="0.75" fill="none"/>
<path d="M471.60 565.40 V521.40 H499.40 V567.40" stroke="#222" stroke-width="0.75" fill="none"/>
<path d="M486.00 535.00 V531.40 H498.40 V567.40" stroke="#222" stroke-width="0.75" fill="none"/>
<text transform="translate(468.40,513.40) scale(0.9,1)" font-size="8.8" font-weight="normal" text-anchor="middle" fill="#000" font-style="italic" stroke="#000" stroke-width="0.15">ns</text>
<text transform="translate(489.60,520.00) scale(0.9,1)" font-size="8.8" font-weight="normal" text-anchor="middle" fill="#000" font-style="italic" stroke="#000" stroke-width="0.15">ns</text>
<text transform="translate(464.20,524.00) scale(0.9,1)" font-size="8.6" font-weight="bold" text-anchor="middle" fill="#000" stroke="#000" stroke-width="0.31">**</text>
<text transform="translate(492.00,534.00) scale(0.9,1)" font-size="8.6" font-weight="bold" text-anchor="middle" fill="#000" stroke="#000" stroke-width="0.31">**</text>
<text transform="translate(455.60,501.00) scale(0.9,1)" font-size="8.2" font-weight="normal" text-anchor="start" fill="#2e2e2e" stroke="#2e2e2e" stroke-width="0.45">Human PBMC</text>
<text transform="translate(442.40,589.00) scale(0.82,1)" font-size="8.2" font-weight="bold" text-anchor="middle" fill="#000" stroke="#000" stroke-width="0.30">V-NP</text>
<text transform="translate(457.20,589.00) scale(0.82,1)" font-size="8.2" font-weight="bold" text-anchor="middle" fill="#000" stroke="#000" stroke-width="0.30">ND</text>
<text transform="translate(470.80,589.00) scale(0.82,1)" font-size="8.2" font-weight="bold" text-anchor="middle" fill="#000" stroke="#000" stroke-width="0.30">ND</text>
<text transform="translate(486.60,589.00) scale(0.82,1)" font-size="8.2" font-weight="bold" text-anchor="middle" fill="#000" stroke="#000" stroke-width="0.30">CP</text>
<text transform="translate(502.20,589.00) scale(0.82,1)" font-size="8.2" font-weight="bold" text-anchor="middle" fill="#000" stroke="#000" stroke-width="0.30">CP</text>
<text transform="translate(410.60,601.00) scale(0.82,1)" font-size="8.0" font-weight="bold" text-anchor="start" fill="#000" stroke="#000" stroke-width="0.29">Mel (µmol/L)</text>
<text transform="translate(457.60,601.00) scale(0.82,1)" font-size="8.2" font-weight="bold" text-anchor="middle" fill="#000" stroke="#000" stroke-width="0.30">-</text>
<text transform="translate(471.60,601.00) scale(0.82,1)" font-size="8.2" font-weight="bold" text-anchor="middle" fill="#000" stroke="#000" stroke-width="0.30">10</text>
<text transform="translate(486.40,601.00) scale(0.82,1)" font-size="8.2" font-weight="bold" text-anchor="middle" fill="#000" stroke="#000" stroke-width="0.30">-</text>
<text transform="translate(502.60,601.00) scale(0.82,1)" font-size="8.2" font-weight="bold" text-anchor="middle" fill="#000" stroke="#000" stroke-width="0.30">10</text>
<text transform="translate(433.40,537.60) rotate(-90) scale(0.82,1)" font-size="8.7" font-weight="bold" text-anchor="middle" fill="#000" stroke="#000" stroke-width="0.31">% Live cells/all</text>
</g>
</svg>
</body></html>
